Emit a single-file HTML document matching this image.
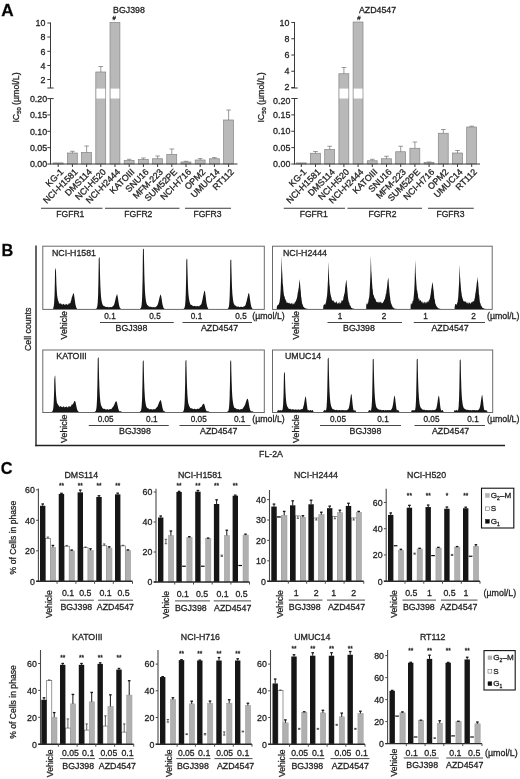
<!DOCTYPE html>
<html><head><meta charset="utf-8"><title>Figure</title>
<style>html,body{margin:0;padding:0;background:#fff}svg{display:block}text{font-family:"Liberation Sans",Arial,sans-serif;stroke:#222;stroke-width:0.28px}</style>
</head><body>
<svg width="520" height="779" viewBox="0 0 520 779">
<defs><filter id="soft" x="0" y="0" width="520" height="779" filterUnits="userSpaceOnUse"><feGaussianBlur stdDeviation="0.3"/></filter></defs>
<rect x="0" y="0" width="520" height="779" fill="#fff"/>
<g filter="url(#soft)">
<text x="1.30" y="15.50" font-size="17.2" font-weight="bold" fill="#000">A</text>
<rect x="53.20" y="162.90" width="9.90" height="1.10" fill="#b9b9b9" stroke="#858585" stroke-width="0.7"/>
<rect x="67.40" y="153.00" width="9.90" height="11.00" fill="#b9b9b9" stroke="#858585" stroke-width="0.7"/>
<line x1="72.40" y1="153.00" x2="72.40" y2="151.30" stroke="#707070" stroke-width="0.7"/>
<line x1="70.10" y1="151.30" x2="74.70" y2="151.30" stroke="#707070" stroke-width="0.7"/>
<rect x="81.60" y="152.50" width="9.90" height="11.50" fill="#b9b9b9" stroke="#858585" stroke-width="0.7"/>
<line x1="86.60" y1="152.50" x2="86.60" y2="146.00" stroke="#707070" stroke-width="0.7"/>
<line x1="84.30" y1="146.00" x2="88.90" y2="146.00" stroke="#707070" stroke-width="0.7"/>
<rect x="95.80" y="72.00" width="9.90" height="92.00" fill="#b9b9b9" stroke="#858585" stroke-width="0.7"/>
<rect x="96.40" y="88.60" width="8.80" height="9.90" fill="#fff"/>
<line x1="100.80" y1="72.00" x2="100.80" y2="66.50" stroke="#707070" stroke-width="0.7"/>
<line x1="98.50" y1="66.50" x2="103.10" y2="66.50" stroke="#707070" stroke-width="0.7"/>
<rect x="110.00" y="22.50" width="9.90" height="141.50" fill="#b9b9b9" stroke="#858585" stroke-width="0.7"/>
<rect x="110.60" y="88.60" width="8.80" height="9.90" fill="#fff"/>
<rect x="124.20" y="160.50" width="9.90" height="3.50" fill="#b9b9b9" stroke="#858585" stroke-width="0.7"/>
<line x1="129.20" y1="160.50" x2="129.20" y2="159.30" stroke="#707070" stroke-width="0.7"/>
<line x1="126.90" y1="159.30" x2="131.50" y2="159.30" stroke="#707070" stroke-width="0.7"/>
<rect x="138.40" y="159.50" width="9.90" height="4.50" fill="#b9b9b9" stroke="#858585" stroke-width="0.7"/>
<line x1="143.40" y1="159.50" x2="143.40" y2="158.00" stroke="#707070" stroke-width="0.7"/>
<line x1="141.10" y1="158.00" x2="145.70" y2="158.00" stroke="#707070" stroke-width="0.7"/>
<rect x="152.60" y="158.75" width="9.90" height="5.25" fill="#b9b9b9" stroke="#858585" stroke-width="0.7"/>
<line x1="157.60" y1="158.75" x2="157.60" y2="156.00" stroke="#707070" stroke-width="0.7"/>
<line x1="155.30" y1="156.00" x2="159.90" y2="156.00" stroke="#707070" stroke-width="0.7"/>
<rect x="166.80" y="154.50" width="9.90" height="9.50" fill="#b9b9b9" stroke="#858585" stroke-width="0.7"/>
<line x1="171.80" y1="154.50" x2="171.80" y2="149.00" stroke="#707070" stroke-width="0.7"/>
<line x1="169.50" y1="149.00" x2="174.10" y2="149.00" stroke="#707070" stroke-width="0.7"/>
<rect x="181.00" y="162.00" width="9.90" height="2.00" fill="#b9b9b9" stroke="#858585" stroke-width="0.7"/>
<line x1="186.00" y1="162.00" x2="186.00" y2="161.30" stroke="#707070" stroke-width="0.7"/>
<line x1="183.70" y1="161.30" x2="188.30" y2="161.30" stroke="#707070" stroke-width="0.7"/>
<rect x="195.20" y="160.00" width="9.90" height="4.00" fill="#b9b9b9" stroke="#858585" stroke-width="0.7"/>
<line x1="200.20" y1="160.00" x2="200.20" y2="158.60" stroke="#707070" stroke-width="0.7"/>
<line x1="197.90" y1="158.60" x2="202.50" y2="158.60" stroke="#707070" stroke-width="0.7"/>
<rect x="209.40" y="158.75" width="9.90" height="5.25" fill="#b9b9b9" stroke="#858585" stroke-width="0.7"/>
<line x1="214.40" y1="158.75" x2="214.40" y2="157.60" stroke="#707070" stroke-width="0.7"/>
<line x1="212.10" y1="157.60" x2="216.70" y2="157.60" stroke="#707070" stroke-width="0.7"/>
<rect x="223.60" y="120.00" width="9.90" height="44.00" fill="#b9b9b9" stroke="#858585" stroke-width="0.7"/>
<line x1="228.60" y1="120.00" x2="228.60" y2="110.00" stroke="#707070" stroke-width="0.7"/>
<line x1="226.30" y1="110.00" x2="230.90" y2="110.00" stroke="#707070" stroke-width="0.7"/>
<line x1="50.50" y1="22.50" x2="50.50" y2="88.00" stroke="#3a3a3a" stroke-width="1"/>
<line x1="50.50" y1="98.60" x2="50.50" y2="164.50" stroke="#3a3a3a" stroke-width="1"/>
<line x1="47.30" y1="23.00" x2="50.50" y2="23.00" stroke="#3a3a3a" stroke-width="1"/>
<text x="45.40" y="26.20" font-size="8.9" text-anchor="end" fill="#1c1c1c">10</text>
<line x1="47.30" y1="37.00" x2="50.50" y2="37.00" stroke="#3a3a3a" stroke-width="1"/>
<text x="45.40" y="40.20" font-size="8.9" text-anchor="end" fill="#1c1c1c">8</text>
<line x1="47.30" y1="51.30" x2="50.50" y2="51.30" stroke="#3a3a3a" stroke-width="1"/>
<text x="45.40" y="54.50" font-size="8.9" text-anchor="end" fill="#1c1c1c">6</text>
<line x1="47.30" y1="65.50" x2="50.50" y2="65.50" stroke="#3a3a3a" stroke-width="1"/>
<text x="45.40" y="68.70" font-size="8.9" text-anchor="end" fill="#1c1c1c">4</text>
<line x1="47.30" y1="79.50" x2="50.50" y2="79.50" stroke="#3a3a3a" stroke-width="1"/>
<text x="45.40" y="82.70" font-size="8.9" text-anchor="end" fill="#1c1c1c">2</text>
<line x1="47.30" y1="88.00" x2="53.70" y2="88.00" stroke="#3a3a3a" stroke-width="1"/>
<line x1="47.30" y1="98.60" x2="53.70" y2="98.60" stroke="#3a3a3a" stroke-width="1"/>
<text x="47.20" y="101.80" font-size="8.9" text-anchor="end" fill="#1c1c1c">0.20</text>
<line x1="47.30" y1="114.95" x2="50.50" y2="114.95" stroke="#3a3a3a" stroke-width="1"/>
<text x="47.20" y="118.15" font-size="8.9" text-anchor="end" fill="#1c1c1c">0.15</text>
<line x1="47.30" y1="131.30" x2="50.50" y2="131.30" stroke="#3a3a3a" stroke-width="1"/>
<text x="47.20" y="134.50" font-size="8.9" text-anchor="end" fill="#1c1c1c">0.10</text>
<line x1="47.30" y1="147.65" x2="50.50" y2="147.65" stroke="#3a3a3a" stroke-width="1"/>
<text x="47.20" y="150.85" font-size="8.9" text-anchor="end" fill="#1c1c1c">0.05</text>
<line x1="47.30" y1="164.00" x2="50.50" y2="164.00" stroke="#3a3a3a" stroke-width="1"/>
<text x="47.20" y="167.20" font-size="8.9" text-anchor="end" fill="#1c1c1c">0.00</text>
<line x1="50.50" y1="164.00" x2="237.50" y2="164.00" stroke="#3a3a3a" stroke-width="1"/>
<line x1="58.20" y1="164.00" x2="58.20" y2="167.00" stroke="#3a3a3a" stroke-width="1"/>
<text x="64.00" y="172.50" font-size="8.9" text-anchor="end" transform="rotate(-45 64.00 172.50)" fill="#1c1c1c">KG-1</text>
<line x1="72.40" y1="164.00" x2="72.40" y2="167.00" stroke="#3a3a3a" stroke-width="1"/>
<text x="78.20" y="172.50" font-size="8.9" text-anchor="end" transform="rotate(-45 78.20 172.50)" fill="#1c1c1c">NCI-H1581</text>
<line x1="86.60" y1="164.00" x2="86.60" y2="167.00" stroke="#3a3a3a" stroke-width="1"/>
<text x="92.40" y="172.50" font-size="8.9" text-anchor="end" transform="rotate(-45 92.40 172.50)" fill="#1c1c1c">DMS114</text>
<line x1="100.80" y1="164.00" x2="100.80" y2="167.00" stroke="#3a3a3a" stroke-width="1"/>
<text x="106.60" y="172.50" font-size="8.9" text-anchor="end" transform="rotate(-45 106.60 172.50)" fill="#1c1c1c">NCI-H520</text>
<line x1="115.00" y1="164.00" x2="115.00" y2="167.00" stroke="#3a3a3a" stroke-width="1"/>
<text x="120.80" y="172.50" font-size="8.9" text-anchor="end" transform="rotate(-45 120.80 172.50)" fill="#1c1c1c">NCI-H2444</text>
<line x1="129.20" y1="164.00" x2="129.20" y2="167.00" stroke="#3a3a3a" stroke-width="1"/>
<text x="135.00" y="172.50" font-size="8.9" text-anchor="end" transform="rotate(-45 135.00 172.50)" fill="#1c1c1c">KATOIII</text>
<line x1="143.40" y1="164.00" x2="143.40" y2="167.00" stroke="#3a3a3a" stroke-width="1"/>
<text x="149.20" y="172.50" font-size="8.9" text-anchor="end" transform="rotate(-45 149.20 172.50)" fill="#1c1c1c">SNU16</text>
<line x1="157.60" y1="164.00" x2="157.60" y2="167.00" stroke="#3a3a3a" stroke-width="1"/>
<text x="163.40" y="172.50" font-size="8.9" text-anchor="end" transform="rotate(-45 163.40 172.50)" fill="#1c1c1c">MFM-223</text>
<line x1="171.80" y1="164.00" x2="171.80" y2="167.00" stroke="#3a3a3a" stroke-width="1"/>
<text x="177.60" y="172.50" font-size="8.9" text-anchor="end" transform="rotate(-45 177.60 172.50)" fill="#1c1c1c">SUM52PE</text>
<line x1="186.00" y1="164.00" x2="186.00" y2="167.00" stroke="#3a3a3a" stroke-width="1"/>
<text x="191.80" y="172.50" font-size="8.9" text-anchor="end" transform="rotate(-45 191.80 172.50)" fill="#1c1c1c">NCI-H716</text>
<line x1="200.20" y1="164.00" x2="200.20" y2="167.00" stroke="#3a3a3a" stroke-width="1"/>
<text x="206.00" y="172.50" font-size="8.9" text-anchor="end" transform="rotate(-45 206.00 172.50)" fill="#1c1c1c">OPM2</text>
<line x1="214.40" y1="164.00" x2="214.40" y2="167.00" stroke="#3a3a3a" stroke-width="1"/>
<text x="220.20" y="172.50" font-size="8.9" text-anchor="end" transform="rotate(-45 220.20 172.50)" fill="#1c1c1c">UMUC14</text>
<line x1="228.60" y1="164.00" x2="228.60" y2="167.00" stroke="#3a3a3a" stroke-width="1"/>
<text x="234.40" y="172.50" font-size="8.9" text-anchor="end" transform="rotate(-45 234.40 172.50)" fill="#1c1c1c">RT112</text>
<text x="129.00" y="13.00" font-size="8.8" text-anchor="middle" fill="#1c1c1c">BGJ398</text>
<text x="114.10" y="20.20" font-size="6" text-anchor="middle" fill="#1c1c1c">#</text>
<line x1="41.00" y1="208.25" x2="102.50" y2="208.25" stroke="#3a3a3a" stroke-width="1"/>
<text x="70.30" y="217.20" font-size="8.6" text-anchor="middle" fill="#1c1c1c">FGFR1</text>
<line x1="105.00" y1="208.25" x2="179.50" y2="208.25" stroke="#3a3a3a" stroke-width="1"/>
<text x="138.30" y="217.20" font-size="8.6" text-anchor="middle" fill="#1c1c1c">FGFR2</text>
<line x1="185.00" y1="208.25" x2="231.00" y2="208.25" stroke="#3a3a3a" stroke-width="1"/>
<text x="207.50" y="217.20" font-size="8.6" text-anchor="middle" fill="#1c1c1c">FGFR3</text>
<rect x="296.30" y="162.90" width="9.90" height="1.10" fill="#b9b9b9" stroke="#858585" stroke-width="0.7"/>
<rect x="310.50" y="153.25" width="9.90" height="10.75" fill="#b9b9b9" stroke="#858585" stroke-width="0.7"/>
<line x1="315.50" y1="153.25" x2="315.50" y2="151.50" stroke="#707070" stroke-width="0.7"/>
<line x1="313.20" y1="151.50" x2="317.80" y2="151.50" stroke="#707070" stroke-width="0.7"/>
<rect x="324.70" y="149.50" width="9.90" height="14.50" fill="#b9b9b9" stroke="#858585" stroke-width="0.7"/>
<line x1="329.70" y1="149.50" x2="329.70" y2="146.25" stroke="#707070" stroke-width="0.7"/>
<line x1="327.40" y1="146.25" x2="332.00" y2="146.25" stroke="#707070" stroke-width="0.7"/>
<rect x="338.90" y="73.75" width="9.90" height="90.25" fill="#b9b9b9" stroke="#858585" stroke-width="0.7"/>
<rect x="339.50" y="88.60" width="8.80" height="9.90" fill="#fff"/>
<line x1="343.90" y1="73.75" x2="343.90" y2="67.50" stroke="#707070" stroke-width="0.7"/>
<line x1="341.60" y1="67.50" x2="346.20" y2="67.50" stroke="#707070" stroke-width="0.7"/>
<rect x="353.10" y="22.00" width="9.90" height="142.00" fill="#b9b9b9" stroke="#858585" stroke-width="0.7"/>
<rect x="353.70" y="88.60" width="8.80" height="9.90" fill="#fff"/>
<rect x="367.30" y="160.75" width="9.90" height="3.25" fill="#b9b9b9" stroke="#858585" stroke-width="0.7"/>
<line x1="372.30" y1="160.75" x2="372.30" y2="159.30" stroke="#707070" stroke-width="0.7"/>
<line x1="370.00" y1="159.30" x2="374.60" y2="159.30" stroke="#707070" stroke-width="0.7"/>
<rect x="381.50" y="158.75" width="9.90" height="5.25" fill="#b9b9b9" stroke="#858585" stroke-width="0.7"/>
<line x1="386.50" y1="158.75" x2="386.50" y2="156.25" stroke="#707070" stroke-width="0.7"/>
<line x1="384.20" y1="156.25" x2="388.80" y2="156.25" stroke="#707070" stroke-width="0.7"/>
<rect x="395.70" y="151.75" width="9.90" height="12.25" fill="#b9b9b9" stroke="#858585" stroke-width="0.7"/>
<line x1="400.70" y1="151.75" x2="400.70" y2="146.25" stroke="#707070" stroke-width="0.7"/>
<line x1="398.40" y1="146.25" x2="403.00" y2="146.25" stroke="#707070" stroke-width="0.7"/>
<rect x="409.90" y="148.25" width="9.90" height="15.75" fill="#b9b9b9" stroke="#858585" stroke-width="0.7"/>
<line x1="414.90" y1="148.25" x2="414.90" y2="142.00" stroke="#707070" stroke-width="0.7"/>
<line x1="412.60" y1="142.00" x2="417.20" y2="142.00" stroke="#707070" stroke-width="0.7"/>
<rect x="424.10" y="162.50" width="9.90" height="1.50" fill="#b9b9b9" stroke="#858585" stroke-width="0.7"/>
<line x1="429.10" y1="162.50" x2="429.10" y2="162.00" stroke="#707070" stroke-width="0.7"/>
<line x1="426.80" y1="162.00" x2="431.40" y2="162.00" stroke="#707070" stroke-width="0.7"/>
<rect x="438.30" y="133.25" width="9.90" height="30.75" fill="#b9b9b9" stroke="#858585" stroke-width="0.7"/>
<line x1="443.30" y1="133.25" x2="443.30" y2="129.50" stroke="#707070" stroke-width="0.7"/>
<line x1="441.00" y1="129.50" x2="445.60" y2="129.50" stroke="#707070" stroke-width="0.7"/>
<rect x="452.50" y="153.00" width="9.90" height="11.00" fill="#b9b9b9" stroke="#858585" stroke-width="0.7"/>
<line x1="457.50" y1="153.00" x2="457.50" y2="150.50" stroke="#707070" stroke-width="0.7"/>
<line x1="455.20" y1="150.50" x2="459.80" y2="150.50" stroke="#707070" stroke-width="0.7"/>
<rect x="466.70" y="127.00" width="9.90" height="37.00" fill="#b9b9b9" stroke="#858585" stroke-width="0.7"/>
<line x1="471.70" y1="127.00" x2="471.70" y2="126.20" stroke="#707070" stroke-width="0.7"/>
<line x1="469.40" y1="126.20" x2="474.00" y2="126.20" stroke="#707070" stroke-width="0.7"/>
<line x1="294.50" y1="22.00" x2="294.50" y2="88.00" stroke="#3a3a3a" stroke-width="1"/>
<line x1="294.50" y1="98.50" x2="294.50" y2="164.50" stroke="#3a3a3a" stroke-width="1"/>
<line x1="291.30" y1="22.50" x2="294.50" y2="22.50" stroke="#3a3a3a" stroke-width="1"/>
<text x="289.40" y="25.70" font-size="8.9" text-anchor="end" fill="#1c1c1c">10</text>
<line x1="291.30" y1="38.75" x2="294.50" y2="38.75" stroke="#3a3a3a" stroke-width="1"/>
<text x="289.40" y="41.95" font-size="8.9" text-anchor="end" fill="#1c1c1c">8</text>
<line x1="291.30" y1="55.00" x2="294.50" y2="55.00" stroke="#3a3a3a" stroke-width="1"/>
<text x="289.40" y="58.20" font-size="8.9" text-anchor="end" fill="#1c1c1c">6</text>
<line x1="291.30" y1="71.25" x2="294.50" y2="71.25" stroke="#3a3a3a" stroke-width="1"/>
<text x="289.40" y="74.45" font-size="8.9" text-anchor="end" fill="#1c1c1c">4</text>
<line x1="291.30" y1="87.50" x2="294.50" y2="87.50" stroke="#3a3a3a" stroke-width="1"/>
<text x="289.40" y="89.70" font-size="8.9" text-anchor="end" fill="#1c1c1c">2</text>
<line x1="291.30" y1="88.00" x2="297.70" y2="88.00" stroke="#3a3a3a" stroke-width="1"/>
<line x1="291.30" y1="98.50" x2="297.70" y2="98.50" stroke="#3a3a3a" stroke-width="1"/>
<text x="290.35" y="103.50" font-size="8.9" text-anchor="end" fill="#1c1c1c">0.20</text>
<line x1="291.30" y1="114.88" x2="294.50" y2="114.88" stroke="#3a3a3a" stroke-width="1"/>
<text x="290.35" y="118.08" font-size="8.9" text-anchor="end" fill="#1c1c1c">0.15</text>
<line x1="291.30" y1="131.25" x2="294.50" y2="131.25" stroke="#3a3a3a" stroke-width="1"/>
<text x="290.35" y="134.45" font-size="8.9" text-anchor="end" fill="#1c1c1c">0.10</text>
<line x1="291.30" y1="147.62" x2="294.50" y2="147.62" stroke="#3a3a3a" stroke-width="1"/>
<text x="290.35" y="150.82" font-size="8.9" text-anchor="end" fill="#1c1c1c">0.05</text>
<line x1="291.30" y1="164.00" x2="294.50" y2="164.00" stroke="#3a3a3a" stroke-width="1"/>
<text x="290.35" y="167.20" font-size="8.9" text-anchor="end" fill="#1c1c1c">0.00</text>
<line x1="294.50" y1="164.00" x2="480.00" y2="164.00" stroke="#3a3a3a" stroke-width="1"/>
<line x1="301.30" y1="164.00" x2="301.30" y2="167.00" stroke="#3a3a3a" stroke-width="1"/>
<text x="307.10" y="172.50" font-size="8.9" text-anchor="end" transform="rotate(-45 307.10 172.50)" fill="#1c1c1c">KG-1</text>
<line x1="315.50" y1="164.00" x2="315.50" y2="167.00" stroke="#3a3a3a" stroke-width="1"/>
<text x="321.30" y="172.50" font-size="8.9" text-anchor="end" transform="rotate(-45 321.30 172.50)" fill="#1c1c1c">NCI-H1581</text>
<line x1="329.70" y1="164.00" x2="329.70" y2="167.00" stroke="#3a3a3a" stroke-width="1"/>
<text x="335.50" y="172.50" font-size="8.9" text-anchor="end" transform="rotate(-45 335.50 172.50)" fill="#1c1c1c">DMS114</text>
<line x1="343.90" y1="164.00" x2="343.90" y2="167.00" stroke="#3a3a3a" stroke-width="1"/>
<text x="349.70" y="172.50" font-size="8.9" text-anchor="end" transform="rotate(-45 349.70 172.50)" fill="#1c1c1c">NCI-H520</text>
<line x1="358.10" y1="164.00" x2="358.10" y2="167.00" stroke="#3a3a3a" stroke-width="1"/>
<text x="363.90" y="172.50" font-size="8.9" text-anchor="end" transform="rotate(-45 363.90 172.50)" fill="#1c1c1c">NCI-H2444</text>
<line x1="372.30" y1="164.00" x2="372.30" y2="167.00" stroke="#3a3a3a" stroke-width="1"/>
<text x="378.10" y="172.50" font-size="8.9" text-anchor="end" transform="rotate(-45 378.10 172.50)" fill="#1c1c1c">KATOIII</text>
<line x1="386.50" y1="164.00" x2="386.50" y2="167.00" stroke="#3a3a3a" stroke-width="1"/>
<text x="392.30" y="172.50" font-size="8.9" text-anchor="end" transform="rotate(-45 392.30 172.50)" fill="#1c1c1c">SNU16</text>
<line x1="400.70" y1="164.00" x2="400.70" y2="167.00" stroke="#3a3a3a" stroke-width="1"/>
<text x="406.50" y="172.50" font-size="8.9" text-anchor="end" transform="rotate(-45 406.50 172.50)" fill="#1c1c1c">MFM-223</text>
<line x1="414.90" y1="164.00" x2="414.90" y2="167.00" stroke="#3a3a3a" stroke-width="1"/>
<text x="420.70" y="172.50" font-size="8.9" text-anchor="end" transform="rotate(-45 420.70 172.50)" fill="#1c1c1c">SUM52PE</text>
<line x1="429.10" y1="164.00" x2="429.10" y2="167.00" stroke="#3a3a3a" stroke-width="1"/>
<text x="434.90" y="172.50" font-size="8.9" text-anchor="end" transform="rotate(-45 434.90 172.50)" fill="#1c1c1c">NCI-H716</text>
<line x1="443.30" y1="164.00" x2="443.30" y2="167.00" stroke="#3a3a3a" stroke-width="1"/>
<text x="449.10" y="172.50" font-size="8.9" text-anchor="end" transform="rotate(-45 449.10 172.50)" fill="#1c1c1c">OPM2</text>
<line x1="457.50" y1="164.00" x2="457.50" y2="167.00" stroke="#3a3a3a" stroke-width="1"/>
<text x="463.30" y="172.50" font-size="8.9" text-anchor="end" transform="rotate(-45 463.30 172.50)" fill="#1c1c1c">UMUC14</text>
<line x1="471.70" y1="164.00" x2="471.70" y2="167.00" stroke="#3a3a3a" stroke-width="1"/>
<text x="477.50" y="172.50" font-size="8.9" text-anchor="end" transform="rotate(-45 477.50 172.50)" fill="#1c1c1c">RT112</text>
<text x="377.50" y="13.00" font-size="8.8" text-anchor="middle" fill="#1c1c1c">AZD4547</text>
<text x="358.90" y="20.20" font-size="6" text-anchor="middle" fill="#1c1c1c">#</text>
<line x1="283.75" y1="208.25" x2="345.00" y2="208.25" stroke="#3a3a3a" stroke-width="1"/>
<text x="313.75" y="217.20" font-size="8.6" text-anchor="middle" fill="#1c1c1c">FGFR1</text>
<line x1="347.50" y1="208.25" x2="422.00" y2="208.25" stroke="#3a3a3a" stroke-width="1"/>
<text x="382.50" y="217.20" font-size="8.6" text-anchor="middle" fill="#1c1c1c">FGFR2</text>
<line x1="428.00" y1="208.25" x2="473.75" y2="208.25" stroke="#3a3a3a" stroke-width="1"/>
<text x="450.50" y="217.20" font-size="8.6" text-anchor="middle" fill="#1c1c1c">FGFR3</text>
<text x="19.2" y="97.5" font-size="8.8" text-anchor="middle" transform="rotate(-90 19.2 97.5)" fill="#1c1c1c">IC<tspan font-size="5.8" dy="2">50</tspan><tspan dy="-2"> (µmol/L)</tspan></text>
<text x="264.2" y="97.5" font-size="8.8" text-anchor="middle" transform="rotate(-90 264.2 97.5)" fill="#1c1c1c">IC<tspan font-size="5.8" dy="2">50</tspan><tspan dy="-2"> (µmol/L)</tspan></text>
<text x="1.50" y="256.20" font-size="16.3" font-weight="bold" fill="#000">B</text>
<line x1="36.00" y1="245.50" x2="36.00" y2="446.20" stroke="#222" stroke-width="1.4"/>
<line x1="35.30" y1="445.50" x2="505.00" y2="445.50" stroke="#222" stroke-width="1.4"/>
<text x="31.00" y="329.30" font-size="8.8" text-anchor="middle" transform="rotate(-90 31.00 329.30)" fill="#1c1c1c">Cell counts</text>
<text x="271.00" y="456.60" font-size="8.8" text-anchor="middle" fill="#1c1c1c">FL-2A</text>
<rect x="42.80" y="246.20" width="221.50" height="63.20" fill="none" stroke="#6a6a6a" stroke-width="1"/>
<text x="52.00" y="255.60" font-size="8.8" fill="#1c1c1c">NCI-H1581</text>
<rect x="272.50" y="246.20" width="219.70" height="63.20" fill="none" stroke="#6a6a6a" stroke-width="1"/>
<text x="283.00" y="255.60" font-size="8.8" fill="#1c1c1c">NCI-H2444</text>
<rect x="42.80" y="350.00" width="221.50" height="62.50" fill="none" stroke="#6a6a6a" stroke-width="1"/>
<text x="56.30" y="359.40" font-size="8.8" fill="#1c1c1c">KATOIII</text>
<rect x="272.50" y="350.00" width="220.20" height="62.50" fill="none" stroke="#6a6a6a" stroke-width="1"/>
<text x="285.00" y="359.40" font-size="8.8" fill="#1c1c1c">UMUC14</text>
<path d="M53.20,309.00 L53.20,308.02 L53.53,307.13 L53.85,305.45 L54.18,302.24 L54.50,296.13 L54.83,284.46 L55.05,271.07 L55.16,270.66 L55.48,268.83 L55.50,268.07 L55.81,268.70 L55.95,268.92 L56.13,276.02 L56.46,284.96 L56.79,291.31 L57.11,295.37 L57.44,297.35 L57.76,298.93 L58.09,300.52 L58.42,301.32 L58.74,302.00 L59.07,303.17 L59.39,303.70 L59.72,303.44 L60.05,303.55 L60.37,303.70 L60.70,303.28 L61.02,303.34 L61.35,304.12 L61.68,304.38 L62.00,304.30 L62.33,304.68 L62.65,304.65 L62.98,303.92 L63.31,303.80 L63.63,304.17 L63.96,304.09 L64.28,304.22 L64.61,304.94 L64.94,305.00 L65.26,304.45 L65.59,304.41 L65.92,304.37 L66.24,303.84 L66.57,303.93 L66.89,304.64 L67.22,304.73 L67.55,304.58 L67.87,304.85 L68.20,304.60 L68.52,303.75 L68.85,303.57 L69.18,303.74 L69.50,303.35 L69.83,303.18 L70.15,303.37 L70.48,302.68 L70.81,301.34 L71.13,300.42 L71.46,299.28 L71.78,297.61 L72.11,296.57 L72.44,296.02 L72.76,294.87 L73.09,293.80 L73.41,293.52 L73.50,293.00 L73.74,293.40 L74.07,294.87 L74.39,297.03 L74.72,299.47 L75.04,301.84 L75.37,303.91 L75.70,305.56 L76.02,306.79 L76.35,307.64 L76.67,308.20 L77.00,308.54 L77.00,309.00 Z" fill="#151515"/>
<path d="M95.80,309.00 L95.80,308.86 L96.13,308.72 L96.46,308.45 L96.79,307.99 L97.12,307.06 L97.44,305.26 L97.77,301.79 L98.10,295.11 L98.43,282.24 L98.75,258.50 L98.76,258.48 L99.09,257.89 L99.20,257.45 L99.42,257.40 L99.65,257.52 L99.75,263.07 L100.08,277.46 L100.41,286.70 L100.73,292.85 L101.06,297.06 L101.39,299.68 L101.72,301.45 L102.05,302.99 L102.38,304.08 L102.71,304.73 L103.04,305.39 L103.37,305.87 L103.69,305.92 L104.02,306.00 L104.35,306.27 L104.68,306.36 L105.01,306.45 L105.34,306.82 L105.67,307.04 L106.00,306.95 L106.33,306.99 L106.66,307.05 L106.98,306.85 L107.31,306.82 L107.64,307.09 L107.97,307.19 L108.30,307.18 L108.63,307.37 L108.96,307.39 L109.29,307.12 L109.62,307.05 L109.94,307.15 L110.27,307.06 L110.60,307.10 L110.93,307.37 L111.26,307.36 L111.59,307.12 L111.92,307.05 L112.25,306.86 L112.58,306.42 L112.91,306.18 L113.23,306.05 L113.56,305.55 L113.89,304.90 L114.22,304.24 L114.55,303.14 L114.88,301.70 L115.21,300.40 L115.54,299.05 L115.87,297.52 L116.19,296.29 L116.52,295.40 L116.85,294.58 L117.00,294.30 L117.18,294.53 L117.51,295.74 L117.84,297.62 L118.17,299.79 L118.50,301.95 L118.83,303.88 L119.16,305.46 L119.48,306.67 L119.81,307.53 L120.14,308.11 L120.47,308.49 L120.80,308.71 L120.80,309.00 Z" fill="#151515"/>
<path d="M140.00,309.00 L140.00,308.83 L140.33,308.65 L140.66,308.33 L140.98,307.82 L141.31,306.74 L141.64,304.65 L141.97,300.64 L142.30,292.91 L142.62,278.05 L142.95,249.70 L142.95,249.69 L143.28,249.11 L143.40,248.74 L143.61,248.77 L143.85,248.94 L143.94,254.73 L144.26,271.63 L144.59,282.53 L144.92,289.89 L145.25,294.90 L145.58,298.11 L145.90,300.47 L146.23,302.37 L146.56,303.56 L146.89,304.30 L147.22,304.98 L147.54,305.37 L147.87,305.45 L148.20,305.73 L148.53,306.13 L148.86,306.30 L149.18,306.50 L149.51,306.85 L149.84,306.89 L150.17,306.72 L150.50,306.79 L150.82,306.85 L151.15,306.76 L151.48,306.92 L151.81,307.23 L152.14,307.24 L152.46,307.19 L152.79,307.28 L153.12,307.17 L153.45,306.93 L153.78,307.02 L154.10,307.19 L154.43,307.14 L154.76,307.22 L155.09,307.36 L155.42,307.13 L155.74,306.79 L156.07,306.65 L156.40,306.38 L156.73,305.93 L157.06,305.66 L157.38,305.31 L157.71,304.47 L158.04,303.49 L158.37,302.46 L158.70,301.02 L159.02,299.46 L159.35,298.20 L159.68,296.95 L160.01,295.70 L160.34,294.94 L160.60,294.50 L160.66,294.53 L160.99,295.39 L161.32,297.05 L161.65,299.12 L161.98,301.28 L162.30,303.28 L162.63,304.97 L162.96,306.29 L163.29,307.26 L163.62,307.93 L163.94,308.37 L164.27,308.64 L164.60,308.81 L164.60,309.00 Z" fill="#151515"/>
<path d="M183.50,309.00 L183.50,308.83 L183.83,308.67 L184.16,308.37 L184.49,307.80 L184.82,306.69 L185.15,304.55 L185.48,300.43 L185.81,292.50 L186.13,277.23 L186.35,260.22 L186.46,259.96 L186.79,258.83 L186.80,258.58 L187.12,258.96 L187.25,258.99 L187.45,269.09 L187.78,280.96 L188.11,289.01 L188.44,293.98 L188.77,297.08 L189.10,299.57 L189.43,301.35 L189.76,302.40 L190.09,303.50 L190.42,304.44 L190.75,304.66 L191.07,304.76 L191.40,305.08 L191.73,305.08 L192.06,305.02 L192.39,305.48 L192.72,305.90 L193.05,305.89 L193.38,306.04 L193.71,306.22 L194.04,305.89 L194.37,305.66 L194.70,305.90 L195.03,305.99 L195.36,305.98 L195.69,306.37 L196.01,306.58 L196.34,306.27 L196.67,306.13 L197.00,306.19 L197.33,305.93 L197.66,305.85 L197.99,306.27 L198.32,306.43 L198.65,306.26 L198.98,306.34 L199.31,306.24 L199.64,305.65 L199.97,305.34 L200.30,305.32 L200.63,304.93 L200.95,304.46 L201.28,304.18 L201.61,303.32 L201.94,301.86 L202.27,300.53 L202.60,299.03 L202.93,297.09 L203.26,295.44 L203.59,294.15 L203.92,292.60 L204.25,291.25 L204.58,290.77 L204.60,290.50 L204.91,291.24 L205.24,293.14 L205.57,295.72 L205.89,298.50 L206.22,301.15 L206.55,303.43 L206.88,305.24 L207.21,306.57 L207.54,307.50 L207.87,308.11 L208.20,308.50 L208.20,309.00 Z" fill="#151515"/>
<path d="M227.50,309.00 L227.50,308.83 L227.83,308.68 L228.15,308.39 L228.48,307.83 L228.80,306.77 L229.13,304.74 L229.46,300.84 L229.78,293.39 L230.11,279.11 L230.35,260.56 L230.43,260.41 L230.76,259.63 L230.80,259.40 L231.09,259.70 L231.25,259.78 L231.41,268.08 L231.74,280.28 L232.06,288.51 L232.39,293.95 L232.72,297.36 L233.04,299.89 L233.37,301.91 L233.69,303.15 L234.02,304.03 L234.35,304.87 L234.67,305.26 L235.00,305.29 L235.32,305.54 L235.65,305.84 L235.98,305.90 L236.30,306.15 L236.63,306.59 L236.95,306.68 L237.28,306.56 L237.61,306.66 L237.93,306.64 L238.26,306.41 L238.58,306.53 L238.91,306.84 L239.24,306.88 L239.56,306.92 L239.89,307.13 L240.21,307.02 L240.54,306.71 L240.86,306.74 L241.19,306.83 L241.52,306.74 L241.84,306.88 L242.17,307.19 L242.49,307.11 L242.82,306.89 L243.15,306.88 L243.47,306.70 L243.80,306.34 L244.12,306.31 L244.45,306.35 L244.78,306.01 L245.10,305.60 L245.43,305.19 L245.75,304.29 L246.08,303.07 L246.41,302.03 L246.73,300.84 L247.06,299.32 L247.38,297.98 L247.71,296.72 L248.04,295.17 L248.36,293.80 L248.69,293.11 L248.80,293.00 L249.01,293.33 L249.34,294.73 L249.67,296.80 L249.99,299.16 L250.32,301.48 L250.64,303.54 L250.97,305.23 L251.30,306.51 L251.62,307.43 L251.95,308.05 L252.27,308.45 L252.60,308.69 L252.60,309.00 Z" fill="#151515"/>
<path d="M276.80,309.00 L276.80,307.08 L277.13,305.90 L277.46,304.78 L277.79,305.82 L278.11,304.56 L278.44,304.59 L278.77,304.83 L279.10,302.82 L279.43,302.81 L279.76,299.97 L280.08,298.25 L280.41,294.28 L280.74,287.66 L281.07,278.17 L281.15,277.38 L281.40,267.31 L281.60,255.87 L281.73,259.25 L282.05,269.27 L282.05,269.85 L282.38,275.41 L282.71,283.31 L283.04,285.45 L283.37,290.26 L283.70,293.26 L284.03,295.40 L284.35,296.56 L284.68,296.56 L285.01,299.28 L285.34,299.11 L285.67,299.68 L286.00,300.96 L286.32,301.00 L286.65,302.68 L286.98,303.03 L287.31,302.95 L287.64,301.97 L287.97,302.85 L288.29,303.33 L288.62,302.79 L288.95,303.28 L289.28,303.80 L289.61,302.62 L289.94,302.97 L290.27,304.23 L290.59,303.44 L290.92,303.63 L291.25,302.76 L291.58,303.18 L291.91,304.35 L292.24,302.56 L292.56,304.79 L292.89,303.98 L293.22,303.05 L293.55,304.54 L293.88,303.54 L294.21,304.55 L294.53,302.69 L294.86,302.15 L295.19,302.27 L295.52,301.00 L295.85,301.85 L296.18,300.09 L296.51,299.42 L296.83,298.31 L297.16,297.27 L297.49,294.65 L297.82,292.49 L298.15,291.57 L298.48,288.70 L298.80,287.72 L299.13,283.47 L299.46,281.24 L299.70,279.19 L299.79,280.09 L300.12,284.75 L300.45,288.40 L300.77,291.45 L301.10,296.49 L301.43,298.18 L301.76,301.24 L302.09,303.20 L302.42,304.78 L302.75,304.16 L303.07,306.27 L303.40,306.66 L303.73,306.97 L304.06,306.95 L304.39,307.93 L304.72,307.94 L305.04,308.12 L305.37,308.19 L305.70,308.39 L306.03,308.52 L306.36,308.73 L306.69,308.78 L307.01,308.84 L307.34,308.85 L307.67,308.89 L308.00,308.95 L308.00,309.00 Z" fill="#151515"/>
<path d="M323.20,309.00 L323.20,306.93 L323.53,305.13 L323.86,305.07 L324.18,304.38 L324.51,303.98 L324.84,304.61 L325.17,304.97 L325.49,303.44 L325.82,302.91 L326.15,301.43 L326.48,299.01 L326.81,297.60 L327.13,295.00 L327.46,290.25 L327.79,283.51 L327.95,280.86 L328.12,273.25 L328.40,261.67 L328.45,262.75 L328.77,271.23 L328.85,273.93 L329.10,278.65 L329.43,284.36 L329.76,286.82 L330.08,291.31 L330.41,293.65 L330.74,295.15 L331.07,296.75 L331.40,297.48 L331.72,299.18 L332.05,300.10 L332.38,300.34 L332.71,301.00 L333.04,300.76 L333.36,302.00 L333.69,300.10 L334.02,301.04 L334.35,302.48 L334.67,302.40 L335.00,302.32 L335.33,302.42 L335.66,303.18 L335.99,301.40 L336.31,301.12 L336.64,302.57 L336.97,302.60 L337.30,303.69 L337.62,303.70 L337.95,303.11 L338.28,303.35 L338.61,301.90 L338.94,303.64 L339.26,303.98 L339.59,301.54 L339.92,302.59 L340.25,303.50 L340.58,302.36 L340.90,303.54 L341.23,302.02 L341.56,300.57 L341.89,300.51 L342.21,300.49 L342.54,301.04 L342.87,300.04 L343.20,299.67 L343.53,297.02 L343.85,296.34 L344.18,294.16 L344.51,293.55 L344.84,291.79 L345.16,288.00 L345.49,285.13 L345.82,283.01 L346.15,280.86 L346.40,279.65 L346.48,280.20 L346.80,284.59 L347.13,287.59 L347.46,291.68 L347.79,295.81 L348.12,298.60 L348.44,300.23 L348.77,302.13 L349.10,302.48 L349.43,303.00 L349.75,305.19 L350.08,305.11 L350.41,305.79 L350.74,306.44 L351.07,307.45 L351.39,307.86 L351.72,308.09 L352.05,308.30 L352.38,308.45 L352.71,308.47 L353.03,308.54 L353.36,308.66 L353.69,308.79 L354.02,308.83 L354.34,308.87 L354.67,308.94 L355.00,308.94 L355.00,309.00 Z" fill="#151515"/>
<path d="M366.20,309.00 L366.20,305.83 L366.53,303.63 L366.86,303.54 L367.18,304.00 L367.51,304.45 L367.84,302.37 L368.17,302.85 L368.49,300.59 L368.82,298.61 L369.15,297.86 L369.48,294.55 L369.81,288.29 L370.13,281.76 L370.35,276.78 L370.46,272.88 L370.79,257.49 L370.80,254.95 L371.12,264.86 L371.25,269.94 L371.45,272.53 L371.77,278.09 L372.10,283.57 L372.43,287.99 L372.76,290.31 L373.08,293.64 L373.41,295.72 L373.74,294.66 L374.07,296.64 L374.40,297.90 L374.72,297.60 L375.05,299.53 L375.38,298.91 L375.71,299.47 L376.04,301.44 L376.36,301.65 L376.69,301.81 L377.02,302.17 L377.35,301.47 L377.67,302.49 L378.00,302.22 L378.33,303.10 L378.66,301.18 L378.99,302.73 L379.31,302.53 L379.64,302.27 L379.97,301.49 L380.30,302.79 L380.62,301.52 L380.95,302.60 L381.28,302.51 L381.61,302.49 L381.94,303.73 L382.26,302.53 L382.59,303.05 L382.92,303.31 L383.25,300.96 L383.58,302.23 L383.90,300.98 L384.23,299.73 L384.56,299.43 L384.89,299.11 L385.21,297.49 L385.54,296.03 L385.87,293.83 L386.20,293.70 L386.53,290.36 L386.85,288.74 L387.18,286.03 L387.51,282.00 L387.84,280.06 L388.16,277.90 L388.20,277.29 L388.49,279.36 L388.82,284.61 L389.15,288.31 L389.48,292.37 L389.80,295.61 L390.13,297.83 L390.46,300.62 L390.79,302.13 L391.12,303.64 L391.44,303.66 L391.77,305.14 L392.10,305.64 L392.43,306.22 L392.75,307.41 L393.08,307.50 L393.41,307.58 L393.74,307.93 L394.07,308.42 L394.39,308.56 L394.72,308.59 L395.05,308.75 L395.38,308.79 L395.71,308.86 L396.03,308.86 L396.36,308.89 L396.69,308.92 L397.02,308.96 L397.34,308.96 L397.67,308.98 L398.00,308.99 L398.00,309.00 Z" fill="#151515"/>
<path d="M410.60,309.00 L410.60,305.89 L410.93,303.21 L411.26,304.90 L411.59,302.81 L411.91,303.94 L412.24,303.26 L412.57,301.29 L412.90,300.72 L413.23,301.02 L413.56,298.21 L413.89,294.89 L414.22,290.80 L414.54,284.47 L414.75,278.46 L414.87,273.27 L415.20,260.75 L415.20,259.43 L415.53,268.93 L415.65,272.81 L415.86,276.30 L416.19,281.01 L416.52,285.55 L416.85,290.04 L417.17,290.25 L417.50,292.81 L417.83,293.97 L418.16,297.53 L418.49,298.16 L418.82,299.60 L419.15,298.38 L419.48,300.28 L419.80,301.12 L420.13,300.76 L420.46,299.83 L420.79,300.36 L421.12,302.06 L421.45,302.55 L421.78,300.73 L422.11,301.79 L422.43,301.59 L422.76,303.30 L423.09,303.48 L423.42,301.93 L423.75,302.69 L424.08,303.66 L424.41,301.46 L424.74,302.29 L425.06,301.87 L425.39,303.74 L425.72,301.72 L426.05,303.74 L426.38,301.61 L426.71,302.57 L427.04,302.73 L427.36,301.99 L427.69,300.77 L428.02,302.15 L428.35,302.09 L428.68,300.52 L429.01,300.60 L429.34,300.10 L429.67,298.96 L429.99,298.02 L430.32,296.18 L430.65,294.21 L430.98,292.29 L431.31,288.95 L431.64,287.84 L431.97,284.89 L432.30,283.47 L432.60,281.56 L432.62,282.49 L432.95,284.58 L433.28,288.81 L433.61,290.55 L433.94,294.29 L434.27,298.02 L434.60,299.58 L434.93,300.25 L435.25,303.89 L435.58,303.24 L435.91,305.14 L436.24,305.77 L436.57,305.93 L436.90,307.00 L437.23,307.29 L437.56,307.50 L437.88,307.64 L438.21,308.22 L438.54,308.22 L438.87,308.43 L439.20,308.58 L439.53,308.72 L439.86,308.80 L440.19,308.87 L440.51,308.90 L440.84,308.93 L441.17,308.93 L441.50,308.96 L441.50,309.00 Z" fill="#151515"/>
<path d="M454.60,309.00 L454.60,307.14 L454.93,305.81 L455.26,304.11 L455.59,303.90 L455.91,304.16 L456.24,304.83 L456.57,304.59 L456.90,303.91 L457.23,302.67 L457.56,302.26 L457.89,299.77 L458.22,297.68 L458.54,292.09 L458.87,286.53 L459.15,281.00 L459.20,280.28 L459.53,266.45 L459.60,265.00 L459.86,271.60 L460.05,276.64 L460.19,278.27 L460.52,283.24 L460.85,287.20 L461.17,291.14 L461.50,292.81 L461.83,296.06 L462.16,296.92 L462.49,298.61 L462.82,298.79 L463.15,300.53 L463.48,301.23 L463.80,301.04 L464.13,301.67 L464.46,301.13 L464.79,301.59 L465.12,301.29 L465.45,301.75 L465.78,301.80 L466.11,301.54 L466.43,302.96 L466.76,303.25 L467.09,301.65 L467.42,303.92 L467.75,302.50 L468.08,302.78 L468.41,304.40 L468.74,302.39 L469.06,302.29 L469.39,303.00 L469.72,302.74 L470.05,302.54 L470.38,304.27 L470.71,303.24 L471.04,303.23 L471.36,302.28 L471.69,302.23 L472.02,302.00 L472.35,302.40 L472.68,301.29 L473.01,301.44 L473.34,300.91 L473.67,301.47 L473.99,301.19 L474.32,299.93 L474.65,298.13 L474.98,297.35 L475.31,293.72 L475.64,292.43 L475.97,289.95 L476.30,287.38 L476.62,284.46 L476.95,282.08 L477.28,280.63 L477.60,276.70 L477.61,276.86 L477.94,280.59 L478.27,284.78 L478.60,288.72 L478.93,294.11 L479.25,295.63 L479.58,299.57 L479.91,302.16 L480.24,303.34 L480.57,303.45 L480.90,305.67 L481.23,305.47 L481.56,305.88 L481.88,307.01 L482.21,307.50 L482.54,307.75 L482.87,307.90 L483.20,308.11 L483.53,308.35 L483.86,308.50 L484.19,308.72 L484.51,308.78 L484.84,308.82 L485.17,308.83 L485.50,308.90 L485.50,309.00 Z" fill="#151515"/>
<path d="M51.50,412.00 L51.50,411.88 L51.83,411.70 L52.15,411.56 L52.48,411.16 L52.81,410.40 L53.14,408.97 L53.46,406.22 L53.79,400.99 L54.12,390.99 L54.35,378.84 L54.45,378.43 L54.77,376.41 L54.80,376.31 L55.10,375.79 L55.25,375.50 L55.43,381.33 L55.76,389.87 L56.08,395.52 L56.41,398.84 L56.74,401.49 L57.07,403.27 L57.39,403.60 L57.72,403.94 L58.05,404.83 L58.38,405.19 L58.70,405.44 L59.03,406.41 L59.36,406.92 L59.68,406.49 L60.01,406.42 L60.34,406.55 L60.67,406.04 L60.99,405.95 L61.32,406.75 L61.65,407.08 L61.98,406.94 L62.30,407.32 L62.63,407.33 L62.96,406.52 L63.29,406.29 L63.61,406.70 L63.94,406.62 L64.27,406.72 L64.60,407.50 L64.92,407.62 L65.25,407.00 L65.58,406.92 L65.90,406.89 L66.23,406.30 L66.56,406.38 L66.89,407.17 L67.21,407.29 L67.54,407.13 L67.87,407.45 L68.20,407.22 L68.52,406.34 L68.85,406.24 L69.18,406.58 L69.51,406.36 L69.83,406.48 L70.16,407.08 L70.49,406.78 L70.82,405.93 L71.14,405.69 L71.47,405.28 L71.80,404.39 L72.12,404.29 L72.45,404.64 L72.78,404.16 L73.11,403.56 L73.43,403.38 L73.76,402.50 L74.09,401.28 L74.42,401.07 L74.74,401.18 L75.00,401.20 L75.07,401.23 L75.40,401.84 L75.73,403.07 L76.05,404.66 L76.38,406.32 L76.71,407.86 L77.04,409.14 L77.36,410.12 L77.69,410.81 L78.02,411.28 L78.35,411.50 L78.67,411.74 L79.00,411.86 L79.00,412.00 Z" fill="#151515"/>
<path d="M94.50,412.00 L94.50,411.92 L94.83,411.73 L95.15,411.48 L95.48,411.25 L95.81,410.88 L96.14,409.85 L96.46,407.89 L96.79,404.11 L97.12,396.85 L97.45,382.93 L97.75,358.77 L97.77,358.72 L98.10,357.86 L98.20,357.51 L98.43,357.32 L98.65,357.34 L98.76,363.58 L99.08,378.19 L99.41,387.72 L99.74,394.45 L100.07,399.10 L100.39,401.90 L100.72,403.82 L101.05,405.30 L101.38,406.04 L101.70,406.51 L102.03,407.29 L102.36,407.90 L102.68,408.16 L103.01,408.58 L103.34,408.94 L103.67,408.78 L103.99,408.66 L104.32,408.87 L104.65,408.91 L104.98,408.90 L105.30,409.31 L105.63,409.60 L105.96,409.45 L106.29,409.42 L106.61,409.49 L106.94,409.21 L107.27,409.06 L107.60,409.38 L107.92,409.55 L108.25,409.49 L108.58,409.70 L108.90,409.76 L109.23,409.36 L109.56,409.15 L109.89,409.23 L110.21,409.07 L110.54,408.96 L110.87,409.22 L111.20,409.19 L111.52,408.74 L111.85,408.45 L112.18,408.12 L112.51,407.42 L112.83,406.91 L113.16,406.75 L113.49,406.27 L113.82,405.59 L114.14,405.12 L114.47,404.39 L114.80,403.28 L115.12,402.50 L115.45,402.03 L115.78,401.42 L116.11,401.15 L116.30,401.20 L116.43,401.29 L116.76,402.02 L117.09,403.28 L117.42,404.80 L117.74,406.37 L118.07,407.82 L118.40,409.03 L118.73,409.98 L119.05,410.68 L119.38,411.17 L119.71,411.21 L120.04,411.16 L120.36,411.29 L120.69,411.25 L121.02,411.47 L121.35,411.51 L121.67,411.68 L122.00,411.99 L122.00,412.00 Z" fill="#151515"/>
<path d="M139.50,412.00 L139.50,411.92 L139.83,411.71 L140.16,411.40 L140.49,411.10 L140.82,410.93 L141.15,409.94 L141.47,408.03 L141.80,404.37 L142.13,397.30 L142.46,383.70 L142.75,361.77 L142.79,361.69 L143.12,360.80 L143.20,360.46 L143.45,360.41 L143.65,360.49 L143.78,367.61 L144.11,381.33 L144.44,389.97 L144.77,395.62 L145.09,399.65 L145.42,402.22 L145.75,403.91 L146.08,405.52 L146.41,406.71 L146.74,407.25 L147.07,407.74 L147.40,408.18 L147.73,408.14 L148.06,408.13 L148.39,408.54 L148.72,408.80 L149.04,408.88 L149.37,409.26 L149.70,409.48 L150.03,409.21 L150.36,409.10 L150.69,409.23 L151.02,409.10 L151.35,409.09 L151.68,409.51 L152.01,409.68 L152.34,409.53 L152.66,409.58 L152.99,409.55 L153.32,409.16 L153.65,409.04 L153.98,409.28 L154.31,409.25 L154.64,409.17 L154.97,409.35 L155.30,409.17 L155.63,408.58 L155.96,408.26 L156.28,407.98 L156.61,407.40 L156.94,407.04 L157.27,406.90 L157.60,406.30 L157.93,405.44 L158.26,404.77 L158.59,403.84 L158.92,402.65 L159.25,401.92 L159.58,401.44 L159.91,400.76 L160.23,400.35 L160.56,400.36 L160.60,400.00 L160.89,400.40 L161.22,401.54 L161.55,403.11 L161.88,404.86 L162.21,406.55 L162.54,408.04 L162.87,409.25 L163.20,410.17 L163.53,410.82 L163.85,411.27 L164.18,411.38 L164.51,411.13 L164.84,411.34 L165.17,411.73 L165.50,411.96 L165.50,412.00 Z" fill="#151515"/>
<path d="M182.50,412.00 L182.50,411.86 L182.83,411.64 L183.16,411.41 L183.49,410.98 L183.82,410.04 L184.15,408.22 L184.48,404.73 L184.80,398.01 L185.13,385.06 L185.45,361.48 L185.46,361.45 L185.79,360.46 L185.90,360.05 L186.12,359.93 L186.35,359.67 L186.45,365.20 L186.78,379.32 L187.11,388.94 L187.44,395.05 L187.77,399.15 L188.10,402.15 L188.43,403.81 L188.76,404.71 L189.09,405.74 L189.41,406.57 L189.74,406.97 L190.07,407.61 L190.40,408.27 L190.73,408.30 L191.06,408.21 L191.39,408.42 L191.72,408.35 L192.05,408.19 L192.38,408.60 L192.71,409.00 L193.04,408.96 L193.37,409.08 L193.70,409.26 L194.02,408.91 L194.35,408.62 L194.68,408.86 L195.01,408.95 L195.34,408.91 L195.67,409.28 L196.00,409.51 L196.33,409.17 L196.66,408.99 L196.99,409.03 L197.32,408.73 L197.65,408.59 L197.98,408.96 L198.30,409.08 L198.63,408.84 L198.96,408.84 L199.29,408.68 L199.62,408.02 L199.95,407.62 L200.28,407.60 L200.61,407.28 L200.94,406.94 L201.27,406.93 L201.60,406.53 L201.93,405.67 L202.26,405.13 L202.59,404.69 L202.91,403.99 L203.24,403.72 L203.57,403.95 L203.80,403.70 L203.90,403.74 L204.23,404.26 L204.56,405.23 L204.89,406.43 L205.22,407.68 L205.55,408.83 L205.88,409.78 L206.21,410.52 L206.54,411.05 L206.87,411.18 L207.20,411.26 L207.52,411.17 L207.85,411.33 L208.18,411.48 L208.51,411.30 L208.84,411.45 L209.17,411.66 L209.50,412.00 L209.50,412.00 Z" fill="#151515"/>
<path d="M227.00,412.00 L227.00,411.92 L227.33,411.65 L227.65,411.33 L227.98,411.34 L228.31,410.94 L228.64,409.98 L228.96,408.12 L229.29,404.57 L229.62,397.75 L229.94,384.67 L230.25,361.77 L230.27,361.72 L230.60,360.87 L230.70,360.28 L230.93,360.54 L231.15,360.79 L231.25,366.53 L231.58,380.19 L231.91,389.23 L232.23,395.39 L232.56,399.22 L232.89,401.77 L233.22,403.95 L233.54,405.49 L233.87,406.38 L234.20,407.24 L234.52,407.89 L234.85,407.93 L235.18,407.98 L235.51,408.34 L235.83,408.48 L236.16,408.57 L236.49,409.05 L236.81,409.36 L237.14,409.22 L237.47,409.21 L237.80,409.30 L238.12,409.05 L238.45,408.95 L238.78,409.31 L239.10,409.48 L239.43,409.43 L239.76,409.63 L240.09,409.67 L240.41,409.27 L240.74,409.06 L241.07,409.16 L241.40,409.01 L241.72,408.90 L242.05,409.13 L242.38,409.05 L242.70,408.54 L243.03,408.19 L243.36,407.80 L243.69,407.02 L244.01,406.44 L244.34,406.17 L244.67,405.55 L244.99,404.70 L245.32,404.04 L245.65,403.09 L245.98,401.76 L246.30,400.77 L246.63,400.09 L246.96,399.29 L247.28,398.83 L247.60,398.70 L247.61,398.70 L247.94,399.28 L248.27,400.61 L248.59,402.38 L248.92,404.30 L249.25,406.14 L249.57,407.74 L249.90,409.04 L250.23,410.02 L250.56,410.73 L250.88,411.21 L251.21,411.41 L251.54,411.14 L251.86,411.23 L252.19,411.24 L252.52,411.31 L252.85,411.60 L253.17,411.71 L253.50,411.99 L253.50,412.00 Z" fill="#151515"/>
<path d="M277.00,412.00 L277.00,412.00 L277.33,411.33 L277.66,410.71 L277.98,410.09 L278.31,409.85 L278.64,410.45 L278.97,410.40 L279.29,410.58 L279.62,410.52 L279.95,409.88 L280.28,410.15 L280.60,410.18 L280.93,410.37 L281.26,410.81 L281.59,410.26 L281.92,410.18 L282.24,410.09 L282.57,409.54 L282.90,407.28 L283.23,402.94 L283.55,394.62 L283.88,378.66 L283.95,373.77 L284.21,373.15 L284.40,372.35 L284.54,372.20 L284.85,372.19 L284.86,372.83 L285.19,384.84 L285.52,392.59 L285.85,397.77 L286.18,401.50 L286.50,403.74 L286.83,404.96 L287.16,406.04 L287.49,406.88 L287.81,407.27 L288.14,407.84 L288.47,408.54 L288.80,408.75 L289.12,408.76 L289.45,408.98 L289.78,408.95 L290.11,408.70 L290.43,408.90 L290.76,409.26 L291.09,409.28 L291.42,409.42 L291.75,409.71 L292.07,409.54 L292.40,409.22 L292.73,409.30 L293.06,409.34 L293.38,409.22 L293.71,409.48 L294.04,409.84 L294.37,409.73 L294.69,409.59 L295.02,409.66 L295.35,409.45 L295.68,409.18 L296.01,409.40 L296.33,409.66 L296.66,409.61 L296.99,409.74 L297.32,409.93 L297.64,409.64 L297.97,409.35 L298.30,409.46 L298.63,409.45 L298.95,409.36 L299.28,409.67 L299.61,409.94 L299.94,409.74 L300.27,409.62 L300.59,409.65 L300.92,409.36 L301.25,409.12 L301.58,409.34 L301.90,409.40 L302.23,409.10 L302.56,408.91 L302.89,408.45 L303.21,407.28 L303.54,405.98 L303.87,404.70 L304.20,402.93 L304.52,400.95 L304.85,399.32 L305.18,397.73 L305.51,396.38 L305.60,396.20 L305.84,396.78 L306.16,398.85 L306.49,401.64 L306.82,404.51 L307.15,407.00 L307.47,408.92 L307.80,410.24 L308.13,410.26 L308.46,409.87 L308.78,410.25 L309.11,410.16 L309.44,410.59 L309.77,410.69 L310.10,410.11 L310.42,410.22 L310.75,409.97 L311.08,410.16 L311.41,410.73 L311.73,410.40 L312.06,410.45 L312.39,410.15 L312.72,409.82 L313.04,410.69 L313.37,411.34 L313.70,412.00 L313.70,412.00 Z" fill="#151515"/>
<path d="M323.00,412.00 L323.00,412.00 L323.33,411.39 L323.66,410.80 L323.99,410.45 L324.31,410.47 L324.64,409.84 L324.97,410.12 L325.30,410.36 L325.63,410.38 L325.96,410.51 L326.29,409.13 L326.62,406.47 L326.94,401.35 L327.27,391.48 L327.60,372.47 L327.75,358.90 L327.93,358.61 L328.20,357.97 L328.26,357.95 L328.59,357.78 L328.65,357.76 L328.92,372.04 L329.25,384.34 L329.57,392.33 L329.90,397.57 L330.23,401.25 L330.56,403.59 L330.89,405.01 L331.22,406.22 L331.55,407.24 L331.88,407.83 L332.20,408.38 L332.53,408.96 L332.86,409.14 L333.19,409.13 L333.52,409.33 L333.85,409.43 L334.18,409.40 L334.50,409.65 L334.83,409.98 L335.16,409.95 L335.49,410.02 L335.82,410.15 L336.15,410.02 L336.48,409.82 L336.81,409.84 L337.13,410.13 L337.46,410.11 L337.79,410.28 L338.12,410.46 L338.45,410.13 L338.78,410.12 L339.11,410.03 L339.44,410.09 L339.76,410.03 L340.09,410.27 L340.42,410.40 L340.75,410.22 L341.08,409.80 L341.41,410.37 L341.74,410.17 L342.07,410.02 L342.39,410.21 L342.72,409.94 L343.05,410.08 L343.38,410.21 L343.71,410.27 L344.04,410.30 L344.37,410.18 L344.70,410.15 L345.02,410.13 L345.35,409.90 L345.68,410.39 L346.01,410.49 L346.34,410.33 L346.67,410.32 L347.00,409.84 L347.32,409.87 L347.65,409.63 L347.98,409.54 L348.31,409.09 L348.64,408.37 L348.97,407.52 L349.30,406.07 L349.63,403.96 L349.95,401.70 L350.28,399.30 L350.61,396.73 L350.94,394.73 L351.27,393.89 L351.30,393.70 L351.60,394.75 L351.93,397.42 L352.26,400.77 L352.58,404.05 L352.91,406.82 L353.24,408.87 L353.57,410.25 L353.90,410.31 L354.23,410.67 L354.56,410.51 L354.89,409.94 L355.21,410.19 L355.54,410.40 L355.87,411.34 L356.20,412.00 L356.20,412.00 Z" fill="#151515"/>
<path d="M368.00,412.00 L368.00,412.00 L368.33,411.46 L368.66,410.62 L368.98,410.40 L369.31,409.91 L369.64,410.03 L369.97,410.54 L370.30,410.39 L370.62,410.66 L370.95,410.28 L371.28,409.20 L371.61,406.61 L371.94,401.63 L372.27,392.06 L372.59,373.63 L372.75,359.60 L372.92,359.33 L373.20,358.85 L373.25,358.89 L373.58,358.93 L373.65,358.89 L373.91,372.27 L374.23,384.25 L374.56,392.18 L374.89,397.28 L375.22,400.89 L375.55,403.60 L375.88,405.33 L376.20,406.48 L376.53,407.47 L376.86,408.01 L377.19,408.19 L377.52,408.54 L377.84,408.93 L378.17,409.09 L378.50,409.36 L378.83,409.76 L379.16,409.82 L379.48,409.72 L379.81,409.82 L380.14,409.83 L380.47,409.69 L380.80,409.86 L381.12,410.16 L381.45,409.82 L381.78,410.15 L382.11,410.34 L382.44,410.20 L382.77,409.96 L383.09,410.05 L383.42,409.99 L383.75,410.12 L384.08,410.09 L384.41,410.51 L384.73,410.38 L385.06,410.19 L385.39,410.26 L385.72,409.86 L386.05,410.02 L386.38,410.22 L386.70,410.40 L387.03,410.37 L387.36,410.04 L387.69,409.91 L388.02,410.25 L388.34,410.05 L388.67,410.18 L389.00,410.24 L389.33,409.96 L389.66,410.19 L389.98,410.02 L390.31,410.24 L390.64,410.01 L390.97,409.88 L391.30,409.47 L391.62,408.95 L391.95,408.55 L392.28,407.75 L392.61,406.37 L392.94,404.77 L393.27,402.82 L393.59,400.36 L393.92,398.06 L394.25,396.40 L394.58,395.47 L394.60,395.50 L394.91,396.49 L395.23,398.91 L395.56,401.92 L395.89,404.87 L396.22,407.35 L396.55,409.19 L396.88,410.43 L397.20,410.33 L397.53,410.23 L397.86,409.80 L398.19,410.37 L398.52,410.50 L398.84,410.74 L399.17,411.43 L399.50,412.00 L399.50,412.00 Z" fill="#151515"/>
<path d="M411.00,412.00 L411.00,412.00 L411.33,411.40 L411.65,410.30 L411.98,410.16 L412.31,410.12 L412.63,410.35 L412.96,410.80 L413.29,410.29 L413.62,410.24 L413.94,410.08 L414.27,409.92 L414.60,410.59 L414.92,410.51 L415.25,409.36 L415.58,406.94 L415.90,402.28 L416.23,393.35 L416.56,376.20 L416.75,359.60 L416.89,359.39 L417.20,358.85 L417.21,358.86 L417.54,358.94 L417.65,358.88 L417.87,370.44 L418.19,382.87 L418.52,391.29 L418.85,396.80 L419.18,400.53 L419.50,403.36 L419.83,405.26 L420.16,406.35 L420.48,407.21 L420.81,407.87 L421.14,408.12 L421.46,408.41 L421.79,408.92 L422.12,409.23 L422.44,409.38 L422.77,409.69 L423.10,409.83 L423.43,409.65 L423.75,409.64 L424.08,409.81 L424.41,409.79 L424.73,409.87 L425.06,410.19 L425.39,410.29 L425.71,410.15 L426.04,410.02 L426.37,409.92 L426.70,409.96 L427.02,409.97 L427.35,410.23 L427.68,410.29 L428.00,409.83 L428.33,410.20 L428.66,410.25 L428.99,410.13 L429.31,410.10 L429.64,410.17 L429.97,410.13 L430.29,410.10 L430.62,410.03 L430.95,410.48 L431.27,410.31 L431.60,410.32 L431.93,410.27 L432.25,409.80 L432.58,410.11 L432.91,410.36 L433.24,410.36 L433.56,410.35 L433.89,410.04 L434.22,409.98 L434.54,410.00 L434.87,409.91 L435.20,409.82 L435.52,409.46 L435.85,409.13 L436.18,408.71 L436.51,407.67 L436.83,406.19 L437.16,404.55 L437.49,402.47 L437.81,400.08 L438.14,398.05 L438.47,396.50 L438.80,395.58 L438.80,395.50 L439.12,396.58 L439.45,399.04 L439.78,402.05 L440.10,404.98 L440.43,407.42 L440.76,409.24 L441.08,410.45 L441.41,410.77 L441.74,410.20 L442.06,410.24 L442.39,410.02 L442.72,410.01 L443.05,410.91 L443.37,411.37 L443.70,412.00 L443.70,412.00 Z" fill="#151515"/>
<path d="M453.80,412.00 L453.80,412.00 L454.13,411.32 L454.45,410.36 L454.78,409.95 L455.11,410.58 L455.44,410.44 L455.76,410.56 L456.09,410.37 L456.42,409.82 L456.74,410.22 L457.07,410.27 L457.40,410.47 L457.73,410.76 L458.05,410.13 L458.38,408.63 L458.71,405.54 L459.03,399.60 L459.36,388.19 L459.69,366.28 L459.75,360.40 L460.02,359.95 L460.20,359.45 L460.34,359.58 L460.65,359.68 L460.67,360.94 L461.00,376.72 L461.33,387.27 L461.65,394.23 L461.98,398.63 L462.31,401.74 L462.63,404.10 L462.96,405.63 L463.29,406.71 L463.62,407.71 L463.94,408.28 L464.27,408.45 L464.60,408.72 L464.92,409.01 L465.25,409.06 L465.58,409.28 L465.91,409.70 L466.23,409.85 L466.56,409.83 L466.89,409.97 L467.21,409.96 L467.54,409.75 L467.87,409.81 L468.20,410.04 L468.52,409.87 L468.85,410.15 L469.18,410.14 L469.50,410.34 L469.83,410.10 L470.16,410.11 L470.49,410.14 L470.81,410.00 L471.14,410.07 L471.47,410.43 L471.80,410.41 L472.12,410.31 L472.45,410.24 L472.78,409.80 L473.10,410.02 L473.43,410.11 L473.76,410.30 L474.09,410.28 L474.41,409.99 L474.74,410.08 L475.07,410.17 L475.39,410.17 L475.72,410.20 L476.05,410.20 L476.38,410.09 L476.70,410.18 L477.03,409.86 L477.36,410.38 L477.68,410.25 L478.01,410.22 L478.34,409.91 L478.67,409.47 L478.99,409.23 L479.32,408.82 L479.65,407.93 L479.97,406.87 L480.30,405.46 L480.63,403.35 L480.96,400.96 L481.28,398.74 L481.61,396.63 L481.94,395.10 L482.10,395.00 L482.27,395.34 L482.59,397.32 L482.92,400.24 L483.25,403.37 L483.57,406.16 L483.90,408.35 L484.23,409.88 L484.56,410.21 L484.88,409.83 L485.21,410.31 L485.54,410.27 L485.86,410.59 L486.19,410.66 L486.52,410.02 L486.85,410.49 L487.17,411.20 L487.50,412.00 L487.50,412.00 Z" fill="#151515"/>
<text x="66.80" y="311.00" font-size="8.8" text-anchor="end" transform="rotate(-90 66.80 311.00)" fill="#1c1c1c">Vehicle</text>
<text x="110.00" y="319.00" font-size="8.2" text-anchor="middle" fill="#1c1c1c">0.1</text>
<text x="155.00" y="319.00" font-size="8.2" text-anchor="middle" fill="#1c1c1c">0.5</text>
<text x="196.50" y="319.00" font-size="8.2" text-anchor="middle" fill="#1c1c1c">0.1</text>
<text x="241.00" y="319.00" font-size="8.2" text-anchor="middle" fill="#1c1c1c">0.5</text>
<line x1="100.00" y1="322.50" x2="173.75" y2="322.50" stroke="#444" stroke-width="1"/>
<line x1="182.50" y1="322.50" x2="252.00" y2="322.50" stroke="#444" stroke-width="1"/>
<text x="131.50" y="331.00" font-size="8.8" text-anchor="middle" fill="#1c1c1c">BGJ398</text>
<text x="219.50" y="331.00" font-size="8.8" text-anchor="middle" fill="#1c1c1c">AZD4547</text>
<text x="252.30" y="319.00" font-size="8.8" fill="#1c1c1c">(µmol/L)</text>
<text x="298.70" y="311.00" font-size="8.8" text-anchor="end" transform="rotate(-90 298.70 311.00)" fill="#1c1c1c">Vehicle</text>
<text x="340.00" y="319.00" font-size="8.2" text-anchor="middle" fill="#1c1c1c">1</text>
<text x="384.00" y="319.00" font-size="8.2" text-anchor="middle" fill="#1c1c1c">2</text>
<text x="425.50" y="319.00" font-size="8.2" text-anchor="middle" fill="#1c1c1c">1</text>
<text x="473.50" y="319.00" font-size="8.2" text-anchor="middle" fill="#1c1c1c">2</text>
<line x1="327.50" y1="322.50" x2="402.00" y2="322.50" stroke="#444" stroke-width="1"/>
<line x1="413.75" y1="322.50" x2="485.00" y2="322.50" stroke="#444" stroke-width="1"/>
<text x="359.00" y="331.00" font-size="8.8" text-anchor="middle" fill="#1c1c1c">BGJ398</text>
<text x="450.00" y="331.00" font-size="8.8" text-anchor="middle" fill="#1c1c1c">AZD4547</text>
<text x="487.00" y="319.00" font-size="8.8" fill="#1c1c1c">(µmol/L)</text>
<text x="66.80" y="414.50" font-size="8.8" text-anchor="end" transform="rotate(-90 66.80 414.50)" fill="#1c1c1c">Vehicle</text>
<text x="105.60" y="422.00" font-size="8.2" text-anchor="middle" fill="#1c1c1c">0.05</text>
<text x="151.80" y="422.00" font-size="8.2" text-anchor="middle" fill="#1c1c1c">0.1</text>
<text x="198.75" y="422.00" font-size="8.2" text-anchor="middle" fill="#1c1c1c">0.05</text>
<text x="239.60" y="422.00" font-size="8.2" text-anchor="middle" fill="#1c1c1c">0.1</text>
<line x1="88.75" y1="425.50" x2="168.75" y2="425.50" stroke="#444" stroke-width="1"/>
<line x1="179.50" y1="425.50" x2="250.50" y2="425.50" stroke="#444" stroke-width="1"/>
<text x="135.00" y="434.00" font-size="8.8" text-anchor="middle" fill="#1c1c1c">BGJ398</text>
<text x="218.70" y="434.00" font-size="8.8" text-anchor="middle" fill="#1c1c1c">AZD4547</text>
<text x="252.30" y="422.00" font-size="8.8" fill="#1c1c1c">(µmol/L)</text>
<text x="298.70" y="414.50" font-size="8.8" text-anchor="end" transform="rotate(-90 298.70 414.50)" fill="#1c1c1c">Vehicle</text>
<text x="338.00" y="422.00" font-size="8.2" text-anchor="middle" fill="#1c1c1c">0.05</text>
<text x="383.00" y="422.00" font-size="8.2" text-anchor="middle" fill="#1c1c1c">0.1</text>
<text x="431.50" y="422.00" font-size="8.2" text-anchor="middle" fill="#1c1c1c">0.05</text>
<text x="473.00" y="422.00" font-size="8.2" text-anchor="middle" fill="#1c1c1c">0.1</text>
<line x1="320.00" y1="425.50" x2="401.00" y2="425.50" stroke="#444" stroke-width="1"/>
<line x1="414.50" y1="425.50" x2="485.00" y2="425.50" stroke="#444" stroke-width="1"/>
<text x="365.50" y="434.00" font-size="8.8" text-anchor="middle" fill="#1c1c1c">BGJ398</text>
<text x="450.60" y="434.00" font-size="8.8" text-anchor="middle" fill="#1c1c1c">AZD4547</text>
<text x="487.00" y="422.00" font-size="8.8" fill="#1c1c1c">(µmol/L)</text>
<text x="0.80" y="474.20" font-size="16.3" font-weight="bold" fill="#000">C</text>
<rect x="45.40" y="538.60" width="5.10" height="42.70" fill="#fff" stroke="#555" stroke-width="0.6"/>
<line x1="47.90" y1="537.07" x2="47.90" y2="538.60" stroke="#222" stroke-width="0.7"/>
<line x1="46.70" y1="537.07" x2="49.10" y2="537.07" stroke="#222" stroke-width="0.7"/>
<rect x="40.00" y="505.81" width="5.40" height="75.49" fill="#161616"/>
<line x1="42.70" y1="505.81" x2="42.70" y2="503.98" stroke="#161616" stroke-width="1.0"/>
<line x1="41.40" y1="503.98" x2="44.00" y2="503.98" stroke="#161616" stroke-width="1.3"/>
<rect x="50.40" y="547.29" width="5.30" height="34.01" fill="#b0b0b0" stroke="#9c9c9c" stroke-width="0.5"/>
<line x1="52.90" y1="547.29" x2="52.90" y2="545.46" stroke="#161616" stroke-width="1.0"/>
<line x1="51.60" y1="545.46" x2="54.20" y2="545.46" stroke="#161616" stroke-width="1.3"/>
<rect x="64.15" y="546.22" width="5.10" height="35.08" fill="#fff" stroke="#555" stroke-width="0.6"/>
<line x1="66.65" y1="545.46" x2="66.65" y2="546.22" stroke="#222" stroke-width="0.7"/>
<line x1="65.45" y1="545.46" x2="67.85" y2="545.46" stroke="#222" stroke-width="0.7"/>
<rect x="58.75" y="493.92" width="5.40" height="87.38" fill="#161616"/>
<line x1="61.45" y1="493.92" x2="61.45" y2="493.31" stroke="#161616" stroke-width="1.0"/>
<line x1="60.15" y1="493.31" x2="62.75" y2="493.31" stroke="#161616" stroke-width="1.3"/>
<rect x="69.15" y="550.80" width="5.30" height="30.50" fill="#b0b0b0" stroke="#9c9c9c" stroke-width="0.5"/>
<line x1="71.65" y1="550.80" x2="71.65" y2="550.04" stroke="#161616" stroke-width="1.0"/>
<line x1="70.35" y1="550.04" x2="72.95" y2="550.04" stroke="#161616" stroke-width="1.3"/>
<rect x="83.00" y="547.75" width="5.10" height="33.55" fill="#fff" stroke="#555" stroke-width="0.6"/>
<line x1="85.50" y1="546.99" x2="85.50" y2="547.75" stroke="#222" stroke-width="0.7"/>
<line x1="84.30" y1="546.99" x2="86.70" y2="546.99" stroke="#222" stroke-width="0.7"/>
<rect x="77.60" y="492.39" width="5.40" height="88.91" fill="#161616"/>
<line x1="80.30" y1="492.39" x2="80.30" y2="490.10" stroke="#161616" stroke-width="1.0"/>
<line x1="79.00" y1="490.10" x2="81.60" y2="490.10" stroke="#161616" stroke-width="1.3"/>
<rect x="88.00" y="550.34" width="5.30" height="30.96" fill="#b0b0b0" stroke="#9c9c9c" stroke-width="0.5"/>
<line x1="90.50" y1="550.34" x2="90.50" y2="548.82" stroke="#161616" stroke-width="1.0"/>
<line x1="89.20" y1="548.82" x2="91.80" y2="548.82" stroke="#161616" stroke-width="1.3"/>
<rect x="101.70" y="545.77" width="5.10" height="35.53" fill="#fff" stroke="#555" stroke-width="0.6"/>
<line x1="104.20" y1="543.94" x2="104.20" y2="545.77" stroke="#222" stroke-width="0.7"/>
<line x1="103.00" y1="543.94" x2="105.40" y2="543.94" stroke="#222" stroke-width="0.7"/>
<rect x="96.30" y="496.97" width="5.40" height="84.33" fill="#161616"/>
<line x1="99.00" y1="496.97" x2="99.00" y2="495.75" stroke="#161616" stroke-width="1.0"/>
<line x1="97.70" y1="495.75" x2="100.30" y2="495.75" stroke="#161616" stroke-width="1.3"/>
<rect x="106.70" y="548.05" width="5.30" height="33.25" fill="#b0b0b0" stroke="#9c9c9c" stroke-width="0.5"/>
<line x1="109.20" y1="548.05" x2="109.20" y2="546.83" stroke="#161616" stroke-width="1.0"/>
<line x1="107.90" y1="546.83" x2="110.50" y2="546.83" stroke="#161616" stroke-width="1.3"/>
<rect x="120.40" y="545.92" width="5.10" height="35.38" fill="#fff" stroke="#555" stroke-width="0.6"/>
<line x1="122.90" y1="545.31" x2="122.90" y2="545.92" stroke="#222" stroke-width="0.7"/>
<line x1="121.70" y1="545.31" x2="124.10" y2="545.31" stroke="#222" stroke-width="0.7"/>
<rect x="115.00" y="494.37" width="5.40" height="86.93" fill="#161616"/>
<line x1="117.70" y1="494.37" x2="117.70" y2="493.15" stroke="#161616" stroke-width="1.0"/>
<line x1="116.40" y1="493.15" x2="119.00" y2="493.15" stroke="#161616" stroke-width="1.3"/>
<rect x="125.40" y="550.50" width="5.30" height="30.80" fill="#b0b0b0" stroke="#9c9c9c" stroke-width="0.5"/>
<line x1="127.90" y1="550.50" x2="127.90" y2="549.88" stroke="#161616" stroke-width="1.0"/>
<line x1="126.60" y1="549.88" x2="129.20" y2="549.88" stroke="#161616" stroke-width="1.3"/>
<line x1="38.40" y1="488.50" x2="38.40" y2="581.80" stroke="#4a4a4a" stroke-width="1.1"/>
<line x1="36.10" y1="581.30" x2="38.40" y2="581.30" stroke="#4a4a4a" stroke-width="1"/>
<text x="34.80" y="584.60" font-size="8.8" text-anchor="end" fill="#1c1c1c">0</text>
<line x1="36.10" y1="550.80" x2="38.40" y2="550.80" stroke="#4a4a4a" stroke-width="1"/>
<text x="34.80" y="554.10" font-size="8.8" text-anchor="end" fill="#1c1c1c">20</text>
<line x1="36.10" y1="520.30" x2="38.40" y2="520.30" stroke="#4a4a4a" stroke-width="1"/>
<text x="34.80" y="523.60" font-size="8.8" text-anchor="end" fill="#1c1c1c">40</text>
<line x1="36.10" y1="489.80" x2="38.40" y2="489.80" stroke="#4a4a4a" stroke-width="1"/>
<text x="34.80" y="493.10" font-size="8.8" text-anchor="end" fill="#1c1c1c">60</text>
<line x1="36.10" y1="581.30" x2="132.50" y2="581.30" stroke="#2a2a2a" stroke-width="1.4"/>
<line x1="57.05" y1="581.30" x2="57.05" y2="583.80" stroke="#4a4a4a" stroke-width="1"/>
<line x1="75.90" y1="581.30" x2="75.90" y2="583.80" stroke="#4a4a4a" stroke-width="1"/>
<line x1="94.60" y1="581.30" x2="94.60" y2="583.80" stroke="#4a4a4a" stroke-width="1"/>
<line x1="113.30" y1="581.30" x2="113.30" y2="583.80" stroke="#4a4a4a" stroke-width="1"/>
<line x1="132.50" y1="581.30" x2="132.50" y2="583.80" stroke="#4a4a4a" stroke-width="1"/>
<text x="81.30" y="477.50" font-size="8.8" text-anchor="middle" fill="#1c1c1c">DMS114</text>
<text x="61.45" y="488.00" font-size="6.5" text-anchor="middle" fill="#222">**</text>
<text x="80.30" y="488.00" font-size="6.5" text-anchor="middle" fill="#222">**</text>
<text x="99.00" y="488.00" font-size="6.5" text-anchor="middle" fill="#222">**</text>
<text x="117.70" y="488.00" font-size="6.5" text-anchor="middle" fill="#222">**</text>
<text x="52.30" y="590.20" font-size="8.6" text-anchor="end" transform="rotate(-90 52.30 590.20)" fill="#1c1c1c">Vehicle</text>
<text x="68.00" y="596.20" font-size="8.8" text-anchor="middle" fill="#1c1c1c">0.1</text>
<text x="85.30" y="596.20" font-size="8.8" text-anchor="middle" fill="#1c1c1c">0.5</text>
<text x="105.50" y="596.20" font-size="8.8" text-anchor="middle" fill="#1c1c1c">0.1</text>
<text x="123.50" y="596.20" font-size="8.8" text-anchor="middle" fill="#1c1c1c">0.5</text>
<line x1="60.00" y1="600.20" x2="93.75" y2="600.20" stroke="#333" stroke-width="0.9"/>
<line x1="98.00" y1="600.20" x2="133.00" y2="600.20" stroke="#333" stroke-width="0.9"/>
<text x="76.30" y="609.90" font-size="8.8" text-anchor="middle" fill="#1c1c1c">BGJ398</text>
<text x="115.40" y="609.90" font-size="8.8" text-anchor="middle" fill="#1c1c1c">AZD4547</text>
<line x1="165.90" y1="539.25" x2="165.90" y2="543.75" stroke="#222" stroke-width="0.7"/>
<line x1="164.70" y1="539.25" x2="167.10" y2="539.25" stroke="#222" stroke-width="0.7"/>
<line x1="164.70" y1="543.75" x2="167.10" y2="543.75" stroke="#222" stroke-width="0.7"/>
<rect x="158.00" y="517.50" width="5.40" height="64.50" fill="#161616"/>
<line x1="160.70" y1="517.50" x2="160.70" y2="516.00" stroke="#161616" stroke-width="1.0"/>
<line x1="159.40" y1="516.00" x2="162.00" y2="516.00" stroke="#161616" stroke-width="1.3"/>
<rect x="168.40" y="535.50" width="5.30" height="46.50" fill="#b0b0b0" stroke="#9c9c9c" stroke-width="0.5"/>
<line x1="170.90" y1="535.50" x2="170.90" y2="531.00" stroke="#161616" stroke-width="1.0"/>
<line x1="169.60" y1="531.00" x2="172.20" y2="531.00" stroke="#161616" stroke-width="1.3"/>
<line x1="182.10" y1="566.25" x2="185.80" y2="566.25" stroke="#111" stroke-width="1.2"/>
<rect x="176.40" y="492.00" width="5.40" height="90.00" fill="#161616"/>
<line x1="179.10" y1="492.00" x2="179.10" y2="491.40" stroke="#161616" stroke-width="1.0"/>
<line x1="177.80" y1="491.40" x2="180.40" y2="491.40" stroke="#161616" stroke-width="1.3"/>
<rect x="186.80" y="537.45" width="5.30" height="44.55" fill="#b0b0b0" stroke="#9c9c9c" stroke-width="0.5"/>
<line x1="189.30" y1="537.45" x2="189.30" y2="536.70" stroke="#161616" stroke-width="1.0"/>
<line x1="188.00" y1="536.70" x2="190.60" y2="536.70" stroke="#161616" stroke-width="1.3"/>
<line x1="200.90" y1="566.25" x2="204.60" y2="566.25" stroke="#111" stroke-width="1.2"/>
<rect x="195.20" y="491.70" width="5.40" height="90.30" fill="#161616"/>
<line x1="197.90" y1="491.70" x2="197.90" y2="490.50" stroke="#161616" stroke-width="1.0"/>
<line x1="196.60" y1="490.50" x2="199.20" y2="490.50" stroke="#161616" stroke-width="1.3"/>
<rect x="205.60" y="538.50" width="5.30" height="43.50" fill="#b0b0b0" stroke="#9c9c9c" stroke-width="0.5"/>
<line x1="208.10" y1="538.50" x2="208.10" y2="538.05" stroke="#161616" stroke-width="1.0"/>
<line x1="206.80" y1="538.05" x2="209.40" y2="538.05" stroke="#161616" stroke-width="1.3"/>
<line x1="221.80" y1="555.15" x2="221.80" y2="556.35" stroke="#222" stroke-width="0.7"/>
<line x1="220.60" y1="555.15" x2="223.00" y2="555.15" stroke="#222" stroke-width="0.7"/>
<line x1="220.60" y1="556.35" x2="223.00" y2="556.35" stroke="#222" stroke-width="0.7"/>
<rect x="213.90" y="504.00" width="5.40" height="78.00" fill="#161616"/>
<line x1="216.60" y1="504.00" x2="216.60" y2="499.80" stroke="#161616" stroke-width="1.0"/>
<line x1="215.30" y1="499.80" x2="217.90" y2="499.80" stroke="#161616" stroke-width="1.3"/>
<rect x="224.30" y="535.50" width="5.30" height="46.50" fill="#b0b0b0" stroke="#9c9c9c" stroke-width="0.5"/>
<line x1="226.80" y1="535.50" x2="226.80" y2="530.25" stroke="#161616" stroke-width="1.0"/>
<line x1="225.50" y1="530.25" x2="228.10" y2="530.25" stroke="#161616" stroke-width="1.3"/>
<line x1="238.30" y1="565.50" x2="242.00" y2="565.50" stroke="#111" stroke-width="1.2"/>
<rect x="232.60" y="495.75" width="5.40" height="86.25" fill="#161616"/>
<line x1="235.30" y1="495.75" x2="235.30" y2="495.15" stroke="#161616" stroke-width="1.0"/>
<line x1="234.00" y1="495.15" x2="236.60" y2="495.15" stroke="#161616" stroke-width="1.3"/>
<rect x="243.00" y="535.05" width="5.30" height="46.95" fill="#b0b0b0" stroke="#9c9c9c" stroke-width="0.5"/>
<line x1="245.50" y1="535.05" x2="245.50" y2="534.15" stroke="#161616" stroke-width="1.0"/>
<line x1="244.20" y1="534.15" x2="246.80" y2="534.15" stroke="#161616" stroke-width="1.3"/>
<line x1="156.00" y1="488.70" x2="156.00" y2="582.50" stroke="#4a4a4a" stroke-width="1.1"/>
<line x1="153.70" y1="582.00" x2="156.00" y2="582.00" stroke="#4a4a4a" stroke-width="1"/>
<text x="152.40" y="585.30" font-size="8.8" text-anchor="end" fill="#1c1c1c">0</text>
<line x1="153.70" y1="552.00" x2="156.00" y2="552.00" stroke="#4a4a4a" stroke-width="1"/>
<text x="152.40" y="555.30" font-size="8.8" text-anchor="end" fill="#1c1c1c">20</text>
<line x1="153.70" y1="522.00" x2="156.00" y2="522.00" stroke="#4a4a4a" stroke-width="1"/>
<text x="152.40" y="525.30" font-size="8.8" text-anchor="end" fill="#1c1c1c">40</text>
<line x1="153.70" y1="492.00" x2="156.00" y2="492.00" stroke="#4a4a4a" stroke-width="1"/>
<text x="152.40" y="495.30" font-size="8.8" text-anchor="end" fill="#1c1c1c">60</text>
<line x1="153.70" y1="582.00" x2="249.50" y2="582.00" stroke="#2a2a2a" stroke-width="1.4"/>
<line x1="174.70" y1="582.00" x2="174.70" y2="584.50" stroke="#4a4a4a" stroke-width="1"/>
<line x1="193.50" y1="582.00" x2="193.50" y2="584.50" stroke="#4a4a4a" stroke-width="1"/>
<line x1="212.20" y1="582.00" x2="212.20" y2="584.50" stroke="#4a4a4a" stroke-width="1"/>
<line x1="230.90" y1="582.00" x2="230.90" y2="584.50" stroke="#4a4a4a" stroke-width="1"/>
<line x1="249.50" y1="582.00" x2="249.50" y2="584.50" stroke="#4a4a4a" stroke-width="1"/>
<text x="200.00" y="477.50" font-size="8.8" text-anchor="middle" fill="#1c1c1c">NCI-H1581</text>
<text x="179.10" y="487.50" font-size="6.5" text-anchor="middle" fill="#222">**</text>
<text x="197.90" y="487.50" font-size="6.5" text-anchor="middle" fill="#222">**</text>
<text x="216.60" y="487.50" font-size="6.5" text-anchor="middle" fill="#222">**</text>
<text x="235.30" y="487.50" font-size="6.5" text-anchor="middle" fill="#222">**</text>
<text x="169.30" y="590.90" font-size="8.6" text-anchor="end" transform="rotate(-90 169.30 590.90)" fill="#1c1c1c">Vehicle</text>
<text x="182.80" y="596.90" font-size="8.8" text-anchor="middle" fill="#1c1c1c">0.1</text>
<text x="202.00" y="596.90" font-size="8.8" text-anchor="middle" fill="#1c1c1c">0.5</text>
<text x="222.50" y="596.90" font-size="8.8" text-anchor="middle" fill="#1c1c1c">0.1</text>
<text x="241.50" y="596.90" font-size="8.8" text-anchor="middle" fill="#1c1c1c">0.5</text>
<line x1="175.00" y1="600.90" x2="210.00" y2="600.90" stroke="#333" stroke-width="0.9"/>
<line x1="213.75" y1="600.90" x2="251.00" y2="600.90" stroke="#333" stroke-width="0.9"/>
<text x="190.80" y="610.60" font-size="8.8" text-anchor="middle" fill="#1c1c1c">BGJ398</text>
<text x="232.70" y="610.60" font-size="8.8" text-anchor="middle" fill="#1c1c1c">AZD4547</text>
<rect x="276.70" y="516.94" width="5.10" height="64.26" fill="#fff" stroke="#555" stroke-width="0.6"/>
<line x1="277.00" y1="516.94" x2="280.70" y2="516.94" stroke="#111" stroke-width="1.2"/>
<rect x="271.30" y="506.54" width="5.40" height="74.66" fill="#161616"/>
<line x1="274.00" y1="506.54" x2="274.00" y2="504.09" stroke="#161616" stroke-width="1.0"/>
<line x1="272.70" y1="504.09" x2="275.30" y2="504.09" stroke="#161616" stroke-width="1.3"/>
<rect x="281.70" y="515.31" width="5.30" height="65.89" fill="#b0b0b0" stroke="#9c9c9c" stroke-width="0.5"/>
<line x1="284.20" y1="515.31" x2="284.20" y2="511.43" stroke="#161616" stroke-width="1.0"/>
<line x1="282.90" y1="511.43" x2="285.50" y2="511.43" stroke="#161616" stroke-width="1.3"/>
<rect x="295.40" y="515.92" width="5.10" height="65.28" fill="#fff" stroke="#555" stroke-width="0.6"/>
<line x1="297.90" y1="518.37" x2="297.90" y2="515.92" stroke="#222" stroke-width="0.7"/>
<line x1="296.70" y1="518.37" x2="299.10" y2="518.37" stroke="#222" stroke-width="0.7"/>
<rect x="290.00" y="505.31" width="5.40" height="75.89" fill="#161616"/>
<line x1="292.70" y1="505.31" x2="292.70" y2="500.82" stroke="#161616" stroke-width="1.0"/>
<line x1="291.40" y1="500.82" x2="294.00" y2="500.82" stroke="#161616" stroke-width="1.3"/>
<rect x="300.40" y="517.14" width="5.30" height="64.06" fill="#b0b0b0" stroke="#9c9c9c" stroke-width="0.5"/>
<line x1="302.90" y1="517.14" x2="302.90" y2="515.72" stroke="#161616" stroke-width="1.0"/>
<line x1="301.60" y1="515.72" x2="304.20" y2="515.72" stroke="#161616" stroke-width="1.3"/>
<rect x="313.80" y="517.96" width="5.10" height="63.24" fill="#fff" stroke="#555" stroke-width="0.6"/>
<line x1="316.30" y1="520.00" x2="316.30" y2="517.96" stroke="#222" stroke-width="0.7"/>
<line x1="315.10" y1="520.00" x2="317.50" y2="520.00" stroke="#222" stroke-width="0.7"/>
<rect x="308.40" y="504.29" width="5.40" height="76.91" fill="#161616"/>
<line x1="311.10" y1="504.29" x2="311.10" y2="500.21" stroke="#161616" stroke-width="1.0"/>
<line x1="309.80" y1="500.21" x2="312.40" y2="500.21" stroke="#161616" stroke-width="1.3"/>
<rect x="318.80" y="514.70" width="5.30" height="66.50" fill="#b0b0b0" stroke="#9c9c9c" stroke-width="0.5"/>
<line x1="321.30" y1="514.70" x2="321.30" y2="512.25" stroke="#161616" stroke-width="1.0"/>
<line x1="320.00" y1="512.25" x2="322.60" y2="512.25" stroke="#161616" stroke-width="1.3"/>
<rect x="332.40" y="516.33" width="5.10" height="64.87" fill="#fff" stroke="#555" stroke-width="0.6"/>
<line x1="334.90" y1="518.78" x2="334.90" y2="516.33" stroke="#222" stroke-width="0.7"/>
<line x1="333.70" y1="518.78" x2="336.10" y2="518.78" stroke="#222" stroke-width="0.7"/>
<rect x="327.00" y="508.17" width="5.40" height="73.03" fill="#161616"/>
<line x1="329.70" y1="508.17" x2="329.70" y2="506.13" stroke="#161616" stroke-width="1.0"/>
<line x1="328.40" y1="506.13" x2="331.00" y2="506.13" stroke="#161616" stroke-width="1.3"/>
<rect x="337.40" y="512.66" width="5.30" height="68.54" fill="#b0b0b0" stroke="#9c9c9c" stroke-width="0.5"/>
<line x1="339.90" y1="512.66" x2="339.90" y2="510.21" stroke="#161616" stroke-width="1.0"/>
<line x1="338.60" y1="510.21" x2="341.20" y2="510.21" stroke="#161616" stroke-width="1.3"/>
<rect x="351.20" y="517.96" width="5.10" height="63.24" fill="#fff" stroke="#555" stroke-width="0.6"/>
<line x1="353.70" y1="520.00" x2="353.70" y2="517.96" stroke="#222" stroke-width="0.7"/>
<line x1="352.50" y1="520.00" x2="354.90" y2="520.00" stroke="#222" stroke-width="0.7"/>
<rect x="345.80" y="505.92" width="5.40" height="75.28" fill="#161616"/>
<line x1="348.50" y1="505.92" x2="348.50" y2="503.27" stroke="#161616" stroke-width="1.0"/>
<line x1="347.20" y1="503.27" x2="349.80" y2="503.27" stroke="#161616" stroke-width="1.3"/>
<rect x="356.20" y="512.25" width="5.30" height="68.95" fill="#b0b0b0" stroke="#9c9c9c" stroke-width="0.5"/>
<line x1="358.70" y1="512.25" x2="358.70" y2="511.43" stroke="#161616" stroke-width="1.0"/>
<line x1="357.40" y1="511.43" x2="360.00" y2="511.43" stroke="#161616" stroke-width="1.3"/>
<line x1="269.50" y1="490.00" x2="269.50" y2="581.70" stroke="#4a4a4a" stroke-width="1.1"/>
<line x1="267.20" y1="581.20" x2="269.50" y2="581.20" stroke="#4a4a4a" stroke-width="1"/>
<text x="265.90" y="584.50" font-size="8.8" text-anchor="end" fill="#1c1c1c">0</text>
<line x1="267.20" y1="560.80" x2="269.50" y2="560.80" stroke="#4a4a4a" stroke-width="1"/>
<text x="265.90" y="564.10" font-size="8.8" text-anchor="end" fill="#1c1c1c">10</text>
<line x1="267.20" y1="540.40" x2="269.50" y2="540.40" stroke="#4a4a4a" stroke-width="1"/>
<text x="265.90" y="543.70" font-size="8.8" text-anchor="end" fill="#1c1c1c">20</text>
<line x1="267.20" y1="520.00" x2="269.50" y2="520.00" stroke="#4a4a4a" stroke-width="1"/>
<text x="265.90" y="523.30" font-size="8.8" text-anchor="end" fill="#1c1c1c">30</text>
<line x1="267.20" y1="499.60" x2="269.50" y2="499.60" stroke="#4a4a4a" stroke-width="1"/>
<text x="265.90" y="502.90" font-size="8.8" text-anchor="end" fill="#1c1c1c">40</text>
<line x1="267.20" y1="581.20" x2="363.75" y2="581.20" stroke="#2a2a2a" stroke-width="1.4"/>
<line x1="288.30" y1="581.20" x2="288.30" y2="583.70" stroke="#4a4a4a" stroke-width="1"/>
<line x1="306.70" y1="581.20" x2="306.70" y2="583.70" stroke="#4a4a4a" stroke-width="1"/>
<line x1="325.30" y1="581.20" x2="325.30" y2="583.70" stroke="#4a4a4a" stroke-width="1"/>
<line x1="344.10" y1="581.20" x2="344.10" y2="583.70" stroke="#4a4a4a" stroke-width="1"/>
<line x1="363.75" y1="581.20" x2="363.75" y2="583.70" stroke="#4a4a4a" stroke-width="1"/>
<text x="316.00" y="477.50" font-size="8.8" text-anchor="middle" fill="#1c1c1c">NCI-H2444</text>
<text x="283.20" y="590.10" font-size="8.6" text-anchor="end" transform="rotate(-90 283.20 590.10)" fill="#1c1c1c">Vehicle</text>
<text x="296.30" y="596.10" font-size="8.8" text-anchor="middle" fill="#1c1c1c">1</text>
<text x="316.30" y="596.10" font-size="8.8" text-anchor="middle" fill="#1c1c1c">2</text>
<text x="333.80" y="596.10" font-size="8.8" text-anchor="middle" fill="#1c1c1c">1</text>
<text x="353.80" y="596.10" font-size="8.8" text-anchor="middle" fill="#1c1c1c">2</text>
<line x1="288.75" y1="600.10" x2="322.50" y2="600.10" stroke="#333" stroke-width="0.9"/>
<line x1="327.00" y1="600.10" x2="365.00" y2="600.10" stroke="#333" stroke-width="0.9"/>
<text x="304.70" y="609.80" font-size="8.8" text-anchor="middle" fill="#1c1c1c">BGJ398</text>
<text x="346.50" y="609.80" font-size="8.8" text-anchor="middle" fill="#1c1c1c">AZD4547</text>
<line x1="393.70" y1="545.76" x2="397.40" y2="545.76" stroke="#111" stroke-width="1.2"/>
<rect x="388.00" y="514.92" width="5.40" height="66.28" fill="#161616"/>
<line x1="390.70" y1="514.92" x2="390.70" y2="512.95" stroke="#161616" stroke-width="1.0"/>
<line x1="389.40" y1="512.95" x2="392.00" y2="512.95" stroke="#161616" stroke-width="1.3"/>
<rect x="398.40" y="550.36" width="5.30" height="30.84" fill="#b0b0b0" stroke="#9c9c9c" stroke-width="0.5"/>
<line x1="400.90" y1="550.36" x2="400.90" y2="549.31" stroke="#161616" stroke-width="1.0"/>
<line x1="399.60" y1="549.31" x2="402.20" y2="549.31" stroke="#161616" stroke-width="1.3"/>
<line x1="414.60" y1="553.11" x2="414.60" y2="554.16" stroke="#222" stroke-width="0.7"/>
<line x1="413.40" y1="553.11" x2="415.80" y2="553.11" stroke="#222" stroke-width="0.7"/>
<line x1="413.40" y1="554.16" x2="415.80" y2="554.16" stroke="#222" stroke-width="0.7"/>
<rect x="406.70" y="507.70" width="5.40" height="73.50" fill="#161616"/>
<line x1="409.40" y1="507.70" x2="409.40" y2="505.34" stroke="#161616" stroke-width="1.0"/>
<line x1="408.10" y1="505.34" x2="410.70" y2="505.34" stroke="#161616" stroke-width="1.3"/>
<rect x="417.10" y="548.91" width="5.30" height="32.29" fill="#b0b0b0" stroke="#9c9c9c" stroke-width="0.5"/>
<line x1="419.60" y1="548.91" x2="419.60" y2="548.26" stroke="#161616" stroke-width="1.0"/>
<line x1="418.30" y1="548.26" x2="420.90" y2="548.26" stroke="#161616" stroke-width="1.3"/>
<line x1="431.20" y1="555.61" x2="434.90" y2="555.61" stroke="#111" stroke-width="1.2"/>
<rect x="425.50" y="507.04" width="5.40" height="74.16" fill="#161616"/>
<line x1="428.20" y1="507.04" x2="428.20" y2="505.08" stroke="#161616" stroke-width="1.0"/>
<line x1="426.90" y1="505.08" x2="429.50" y2="505.08" stroke="#161616" stroke-width="1.3"/>
<rect x="435.90" y="547.99" width="5.30" height="33.21" fill="#b0b0b0" stroke="#9c9c9c" stroke-width="0.5"/>
<line x1="438.40" y1="547.99" x2="438.40" y2="547.34" stroke="#161616" stroke-width="1.0"/>
<line x1="437.10" y1="547.34" x2="439.70" y2="547.34" stroke="#161616" stroke-width="1.3"/>
<line x1="452.10" y1="554.43" x2="452.10" y2="555.48" stroke="#222" stroke-width="0.7"/>
<line x1="450.90" y1="554.43" x2="453.30" y2="554.43" stroke="#222" stroke-width="0.7"/>
<line x1="450.90" y1="555.48" x2="453.30" y2="555.48" stroke="#222" stroke-width="0.7"/>
<rect x="444.20" y="508.75" width="5.40" height="72.45" fill="#161616"/>
<line x1="446.90" y1="508.75" x2="446.90" y2="507.04" stroke="#161616" stroke-width="1.0"/>
<line x1="445.60" y1="507.04" x2="448.20" y2="507.04" stroke="#161616" stroke-width="1.3"/>
<rect x="454.60" y="547.08" width="5.30" height="34.12" fill="#b0b0b0" stroke="#9c9c9c" stroke-width="0.5"/>
<line x1="457.10" y1="547.08" x2="457.10" y2="546.55" stroke="#161616" stroke-width="1.0"/>
<line x1="455.80" y1="546.55" x2="458.40" y2="546.55" stroke="#161616" stroke-width="1.3"/>
<line x1="468.70" y1="556.26" x2="472.40" y2="556.26" stroke="#111" stroke-width="1.2"/>
<rect x="463.00" y="508.23" width="5.40" height="72.98" fill="#161616"/>
<line x1="465.70" y1="508.23" x2="465.70" y2="507.18" stroke="#161616" stroke-width="1.0"/>
<line x1="464.40" y1="507.18" x2="467.00" y2="507.18" stroke="#161616" stroke-width="1.3"/>
<rect x="473.40" y="546.42" width="5.30" height="34.78" fill="#b0b0b0" stroke="#9c9c9c" stroke-width="0.5"/>
<line x1="475.90" y1="546.42" x2="475.90" y2="544.71" stroke="#161616" stroke-width="1.0"/>
<line x1="474.60" y1="544.71" x2="477.20" y2="544.71" stroke="#161616" stroke-width="1.3"/>
<line x1="386.20" y1="488.70" x2="386.20" y2="581.70" stroke="#4a4a4a" stroke-width="1.1"/>
<line x1="383.90" y1="581.20" x2="386.20" y2="581.20" stroke="#4a4a4a" stroke-width="1"/>
<text x="382.60" y="584.50" font-size="8.8" text-anchor="end" fill="#1c1c1c">0</text>
<line x1="383.90" y1="554.95" x2="386.20" y2="554.95" stroke="#4a4a4a" stroke-width="1"/>
<text x="382.60" y="558.25" font-size="8.8" text-anchor="end" fill="#1c1c1c">20</text>
<line x1="383.90" y1="528.70" x2="386.20" y2="528.70" stroke="#4a4a4a" stroke-width="1"/>
<text x="382.60" y="532.00" font-size="8.8" text-anchor="end" fill="#1c1c1c">40</text>
<line x1="383.90" y1="502.45" x2="386.20" y2="502.45" stroke="#4a4a4a" stroke-width="1"/>
<text x="382.60" y="505.75" font-size="8.8" text-anchor="end" fill="#1c1c1c">60</text>
<line x1="383.90" y1="581.20" x2="480.00" y2="581.20" stroke="#2a2a2a" stroke-width="1.4"/>
<line x1="405.00" y1="581.20" x2="405.00" y2="583.70" stroke="#4a4a4a" stroke-width="1"/>
<line x1="423.80" y1="581.20" x2="423.80" y2="583.70" stroke="#4a4a4a" stroke-width="1"/>
<line x1="442.50" y1="581.20" x2="442.50" y2="583.70" stroke="#4a4a4a" stroke-width="1"/>
<line x1="461.30" y1="581.20" x2="461.30" y2="583.70" stroke="#4a4a4a" stroke-width="1"/>
<line x1="480.00" y1="581.20" x2="480.00" y2="583.70" stroke="#4a4a4a" stroke-width="1"/>
<text x="426.60" y="477.50" font-size="8.8" text-anchor="middle" fill="#1c1c1c">NCI-H520</text>
<text x="409.40" y="498.00" font-size="6.5" text-anchor="middle" fill="#222">**</text>
<text x="428.20" y="498.00" font-size="6.5" text-anchor="middle" fill="#222">**</text>
<text x="446.90" y="498.00" font-size="6.5" text-anchor="middle" fill="#222">*</text>
<text x="465.70" y="498.00" font-size="6.5" text-anchor="middle" fill="#222">**</text>
<text x="397.00" y="590.10" font-size="8.6" text-anchor="end" transform="rotate(-90 397.00 590.10)" fill="#1c1c1c">Vehicle</text>
<text x="411.30" y="596.10" font-size="8.8" text-anchor="middle" fill="#1c1c1c">0.5</text>
<text x="429.50" y="596.10" font-size="8.8" text-anchor="middle" fill="#1c1c1c">1</text>
<text x="449.60" y="596.10" font-size="8.8" text-anchor="middle" fill="#1c1c1c">0.5</text>
<text x="466.00" y="596.10" font-size="8.8" text-anchor="middle" fill="#1c1c1c">1</text>
<line x1="402.50" y1="600.10" x2="436.00" y2="600.10" stroke="#333" stroke-width="0.9"/>
<line x1="441.00" y1="600.10" x2="477.50" y2="600.10" stroke="#333" stroke-width="0.9"/>
<text x="418.80" y="609.80" font-size="8.8" text-anchor="middle" fill="#1c1c1c">BGJ398</text>
<text x="458.80" y="609.80" font-size="8.8" text-anchor="middle" fill="#1c1c1c">AZD4547</text>
<text x="483.50" y="596.10" font-size="8.9" fill="#1c1c1c">(µmol/L)</text>
<rect x="46.70" y="680.31" width="5.10" height="63.89" fill="#fff" stroke="#555" stroke-width="0.6"/>
<line x1="49.20" y1="679.91" x2="49.20" y2="680.31" stroke="#222" stroke-width="0.7"/>
<line x1="48.00" y1="679.91" x2="50.40" y2="679.91" stroke="#222" stroke-width="0.7"/>
<rect x="41.30" y="699.82" width="5.40" height="44.38" fill="#161616"/>
<line x1="44.00" y1="699.82" x2="44.00" y2="697.80" stroke="#161616" stroke-width="1.0"/>
<line x1="42.70" y1="697.80" x2="45.30" y2="697.80" stroke="#161616" stroke-width="1.3"/>
<rect x="51.70" y="717.30" width="5.30" height="26.90" fill="#b0b0b0" stroke="#9c9c9c" stroke-width="0.5"/>
<line x1="54.20" y1="717.30" x2="54.20" y2="712.59" stroke="#161616" stroke-width="1.0"/>
<line x1="52.90" y1="712.59" x2="55.50" y2="712.59" stroke="#161616" stroke-width="1.3"/>
<rect x="65.40" y="728.06" width="5.10" height="16.14" fill="#fff" stroke="#555" stroke-width="0.6"/>
<line x1="67.90" y1="718.91" x2="67.90" y2="728.06" stroke="#222" stroke-width="0.7"/>
<line x1="66.70" y1="718.91" x2="69.10" y2="718.91" stroke="#222" stroke-width="0.7"/>
<rect x="60.00" y="664.85" width="5.40" height="79.36" fill="#161616"/>
<line x1="62.70" y1="664.85" x2="62.70" y2="663.50" stroke="#161616" stroke-width="1.0"/>
<line x1="61.40" y1="663.50" x2="64.00" y2="663.50" stroke="#161616" stroke-width="1.3"/>
<rect x="70.40" y="703.85" width="5.30" height="40.35" fill="#b0b0b0" stroke="#9c9c9c" stroke-width="0.5"/>
<line x1="72.90" y1="703.85" x2="72.90" y2="694.44" stroke="#161616" stroke-width="1.0"/>
<line x1="71.60" y1="694.44" x2="74.20" y2="694.44" stroke="#161616" stroke-width="1.3"/>
<rect x="84.20" y="730.08" width="5.10" height="14.12" fill="#fff" stroke="#555" stroke-width="0.6"/>
<line x1="86.70" y1="723.89" x2="86.70" y2="730.08" stroke="#222" stroke-width="0.7"/>
<line x1="85.50" y1="723.89" x2="87.90" y2="723.89" stroke="#222" stroke-width="0.7"/>
<rect x="78.80" y="664.85" width="5.40" height="79.36" fill="#161616"/>
<line x1="81.50" y1="664.85" x2="81.50" y2="663.50" stroke="#161616" stroke-width="1.0"/>
<line x1="80.20" y1="663.50" x2="82.80" y2="663.50" stroke="#161616" stroke-width="1.3"/>
<rect x="89.20" y="701.83" width="5.30" height="42.37" fill="#b0b0b0" stroke="#9c9c9c" stroke-width="0.5"/>
<line x1="91.70" y1="701.83" x2="91.70" y2="692.42" stroke="#161616" stroke-width="1.0"/>
<line x1="90.40" y1="692.42" x2="93.00" y2="692.42" stroke="#161616" stroke-width="1.3"/>
<rect x="102.90" y="726.04" width="5.10" height="18.16" fill="#fff" stroke="#555" stroke-width="0.6"/>
<line x1="105.40" y1="715.82" x2="105.40" y2="726.04" stroke="#222" stroke-width="0.7"/>
<line x1="104.20" y1="715.82" x2="106.60" y2="715.82" stroke="#222" stroke-width="0.7"/>
<rect x="97.50" y="663.90" width="5.40" height="80.30" fill="#161616"/>
<line x1="100.20" y1="663.90" x2="100.20" y2="662.83" stroke="#161616" stroke-width="1.0"/>
<line x1="98.90" y1="662.83" x2="101.50" y2="662.83" stroke="#161616" stroke-width="1.3"/>
<rect x="107.90" y="706.54" width="5.30" height="37.66" fill="#b0b0b0" stroke="#9c9c9c" stroke-width="0.5"/>
<line x1="110.40" y1="706.54" x2="110.40" y2="694.84" stroke="#161616" stroke-width="1.0"/>
<line x1="109.10" y1="694.84" x2="111.70" y2="694.84" stroke="#161616" stroke-width="1.3"/>
<rect x="121.70" y="732.10" width="5.10" height="12.11" fill="#fff" stroke="#555" stroke-width="0.6"/>
<line x1="124.20" y1="723.89" x2="124.20" y2="732.10" stroke="#222" stroke-width="0.7"/>
<line x1="123.00" y1="723.89" x2="125.40" y2="723.89" stroke="#222" stroke-width="0.7"/>
<rect x="116.30" y="669.55" width="5.40" height="74.65" fill="#161616"/>
<line x1="119.00" y1="669.55" x2="119.00" y2="668.48" stroke="#161616" stroke-width="1.0"/>
<line x1="117.70" y1="668.48" x2="120.30" y2="668.48" stroke="#161616" stroke-width="1.3"/>
<rect x="126.70" y="695.11" width="5.30" height="49.09" fill="#b0b0b0" stroke="#9c9c9c" stroke-width="0.5"/>
<line x1="129.20" y1="695.11" x2="129.20" y2="680.72" stroke="#161616" stroke-width="1.0"/>
<line x1="127.90" y1="680.72" x2="130.50" y2="680.72" stroke="#161616" stroke-width="1.3"/>
<line x1="40.50" y1="650.00" x2="40.50" y2="744.70" stroke="#4a4a4a" stroke-width="1.1"/>
<line x1="38.20" y1="744.20" x2="40.50" y2="744.20" stroke="#4a4a4a" stroke-width="1"/>
<text x="36.90" y="747.50" font-size="8.8" text-anchor="end" fill="#1c1c1c">0</text>
<line x1="38.20" y1="717.30" x2="40.50" y2="717.30" stroke="#4a4a4a" stroke-width="1"/>
<text x="36.90" y="720.60" font-size="8.8" text-anchor="end" fill="#1c1c1c">20</text>
<line x1="38.20" y1="690.40" x2="40.50" y2="690.40" stroke="#4a4a4a" stroke-width="1"/>
<text x="36.90" y="693.70" font-size="8.8" text-anchor="end" fill="#1c1c1c">40</text>
<line x1="38.20" y1="663.50" x2="40.50" y2="663.50" stroke="#4a4a4a" stroke-width="1"/>
<text x="36.90" y="666.80" font-size="8.8" text-anchor="end" fill="#1c1c1c">60</text>
<line x1="38.20" y1="744.20" x2="133.75" y2="744.20" stroke="#2a2a2a" stroke-width="1.4"/>
<line x1="58.30" y1="744.20" x2="58.30" y2="746.70" stroke="#4a4a4a" stroke-width="1"/>
<line x1="77.10" y1="744.20" x2="77.10" y2="746.70" stroke="#4a4a4a" stroke-width="1"/>
<line x1="95.80" y1="744.20" x2="95.80" y2="746.70" stroke="#4a4a4a" stroke-width="1"/>
<line x1="114.60" y1="744.20" x2="114.60" y2="746.70" stroke="#4a4a4a" stroke-width="1"/>
<line x1="133.75" y1="744.20" x2="133.75" y2="746.70" stroke="#4a4a4a" stroke-width="1"/>
<text x="87.30" y="640.00" font-size="8.8" text-anchor="middle" fill="#1c1c1c">KATOIII</text>
<text x="62.70" y="660.00" font-size="6.5" text-anchor="middle" fill="#222">**</text>
<text x="81.50" y="660.00" font-size="6.5" text-anchor="middle" fill="#222">**</text>
<text x="100.20" y="660.00" font-size="6.5" text-anchor="middle" fill="#222">**</text>
<text x="119.00" y="660.00" font-size="6.5" text-anchor="middle" fill="#222">**</text>
<text x="53.20" y="749.40" font-size="8.6" text-anchor="end" transform="rotate(-90 53.20 749.40)" fill="#1c1c1c">Vehicle</text>
<text x="70.40" y="756.30" font-size="8.8" text-anchor="middle" textLength="16.8" lengthAdjust="spacingAndGlyphs" fill="#1c1c1c">0.05</text>
<text x="88.20" y="756.30" font-size="8.8" text-anchor="middle" fill="#1c1c1c">0.1</text>
<text x="108.80" y="756.30" font-size="8.8" text-anchor="middle" textLength="16.8" lengthAdjust="spacingAndGlyphs" fill="#1c1c1c">0.05</text>
<text x="127.50" y="756.30" font-size="8.8" text-anchor="middle" fill="#1c1c1c">0.1</text>
<line x1="60.00" y1="758.60" x2="95.00" y2="758.60" stroke="#333" stroke-width="0.9"/>
<line x1="98.75" y1="758.60" x2="133.75" y2="758.60" stroke="#333" stroke-width="0.9"/>
<text x="78.20" y="768.80" font-size="8.8" text-anchor="middle" fill="#1c1c1c">BGJ398</text>
<text x="117.40" y="768.80" font-size="8.8" text-anchor="middle" fill="#1c1c1c">AZD4547</text>
<line x1="167.90" y1="719.50" x2="167.90" y2="722.17" stroke="#222" stroke-width="0.7"/>
<line x1="166.70" y1="719.50" x2="169.10" y2="719.50" stroke="#222" stroke-width="0.7"/>
<line x1="166.70" y1="722.17" x2="169.10" y2="722.17" stroke="#222" stroke-width="0.7"/>
<rect x="160.00" y="677.05" width="5.40" height="67.15" fill="#161616"/>
<line x1="162.70" y1="677.05" x2="162.70" y2="676.65" stroke="#161616" stroke-width="1.0"/>
<line x1="161.40" y1="676.65" x2="164.00" y2="676.65" stroke="#161616" stroke-width="1.3"/>
<rect x="170.40" y="699.74" width="5.30" height="44.46" fill="#b0b0b0" stroke="#9c9c9c" stroke-width="0.5"/>
<line x1="172.90" y1="699.74" x2="172.90" y2="697.74" stroke="#161616" stroke-width="1.0"/>
<line x1="171.60" y1="697.74" x2="174.20" y2="697.74" stroke="#161616" stroke-width="1.3"/>
<line x1="186.70" y1="733.79" x2="186.70" y2="734.59" stroke="#222" stroke-width="0.7"/>
<line x1="185.50" y1="733.79" x2="187.90" y2="733.79" stroke="#222" stroke-width="0.7"/>
<line x1="185.50" y1="734.59" x2="187.90" y2="734.59" stroke="#222" stroke-width="0.7"/>
<rect x="178.80" y="660.10" width="5.40" height="84.11" fill="#161616"/>
<line x1="181.50" y1="660.10" x2="181.50" y2="659.69" stroke="#161616" stroke-width="1.0"/>
<line x1="180.20" y1="659.69" x2="182.80" y2="659.69" stroke="#161616" stroke-width="1.3"/>
<rect x="189.20" y="703.88" width="5.30" height="40.32" fill="#b0b0b0" stroke="#9c9c9c" stroke-width="0.5"/>
<line x1="191.70" y1="703.88" x2="191.70" y2="701.21" stroke="#161616" stroke-width="1.0"/>
<line x1="190.40" y1="701.21" x2="193.00" y2="701.21" stroke="#161616" stroke-width="1.3"/>
<line x1="205.00" y1="733.52" x2="205.00" y2="734.86" stroke="#222" stroke-width="0.7"/>
<line x1="203.80" y1="733.52" x2="206.20" y2="733.52" stroke="#222" stroke-width="0.7"/>
<line x1="203.80" y1="734.86" x2="206.20" y2="734.86" stroke="#222" stroke-width="0.7"/>
<rect x="197.10" y="660.50" width="5.40" height="83.70" fill="#161616"/>
<line x1="199.80" y1="660.50" x2="199.80" y2="660.10" stroke="#161616" stroke-width="1.0"/>
<line x1="198.50" y1="660.10" x2="201.10" y2="660.10" stroke="#161616" stroke-width="1.3"/>
<rect x="207.50" y="703.48" width="5.30" height="40.72" fill="#b0b0b0" stroke="#9c9c9c" stroke-width="0.5"/>
<line x1="210.00" y1="703.48" x2="210.00" y2="701.08" stroke="#161616" stroke-width="1.0"/>
<line x1="208.70" y1="701.08" x2="211.30" y2="701.08" stroke="#161616" stroke-width="1.3"/>
<line x1="224.20" y1="731.92" x2="224.20" y2="735.12" stroke="#222" stroke-width="0.7"/>
<line x1="223.00" y1="731.92" x2="225.40" y2="731.92" stroke="#222" stroke-width="0.7"/>
<line x1="223.00" y1="735.12" x2="225.40" y2="735.12" stroke="#222" stroke-width="0.7"/>
<rect x="216.30" y="660.50" width="5.40" height="83.70" fill="#161616"/>
<line x1="219.00" y1="660.50" x2="219.00" y2="657.56" stroke="#161616" stroke-width="1.0"/>
<line x1="217.70" y1="657.56" x2="220.30" y2="657.56" stroke="#161616" stroke-width="1.3"/>
<rect x="226.70" y="703.22" width="5.30" height="40.98" fill="#b0b0b0" stroke="#9c9c9c" stroke-width="0.5"/>
<line x1="229.20" y1="703.22" x2="229.20" y2="699.74" stroke="#161616" stroke-width="1.0"/>
<line x1="227.90" y1="699.74" x2="230.50" y2="699.74" stroke="#161616" stroke-width="1.3"/>
<line x1="242.90" y1="731.12" x2="242.90" y2="731.92" stroke="#222" stroke-width="0.7"/>
<line x1="241.70" y1="731.12" x2="244.10" y2="731.12" stroke="#222" stroke-width="0.7"/>
<line x1="241.70" y1="731.92" x2="244.10" y2="731.92" stroke="#222" stroke-width="0.7"/>
<rect x="235.00" y="660.50" width="5.40" height="83.70" fill="#161616"/>
<line x1="237.70" y1="660.50" x2="237.70" y2="658.76" stroke="#161616" stroke-width="1.0"/>
<line x1="236.40" y1="658.76" x2="239.00" y2="658.76" stroke="#161616" stroke-width="1.3"/>
<rect x="245.40" y="705.49" width="5.30" height="38.72" fill="#b0b0b0" stroke="#9c9c9c" stroke-width="0.5"/>
<line x1="247.90" y1="705.49" x2="247.90" y2="703.22" stroke="#161616" stroke-width="1.0"/>
<line x1="246.60" y1="703.22" x2="249.20" y2="703.22" stroke="#161616" stroke-width="1.3"/>
<line x1="158.00" y1="650.00" x2="158.00" y2="744.70" stroke="#4a4a4a" stroke-width="1.1"/>
<line x1="155.70" y1="744.20" x2="158.00" y2="744.20" stroke="#4a4a4a" stroke-width="1"/>
<text x="154.40" y="747.50" font-size="8.8" text-anchor="end" fill="#1c1c1c">0</text>
<line x1="155.70" y1="717.50" x2="158.00" y2="717.50" stroke="#4a4a4a" stroke-width="1"/>
<text x="154.40" y="720.80" font-size="8.8" text-anchor="end" fill="#1c1c1c">20</text>
<line x1="155.70" y1="690.80" x2="158.00" y2="690.80" stroke="#4a4a4a" stroke-width="1"/>
<text x="154.40" y="694.10" font-size="8.8" text-anchor="end" fill="#1c1c1c">40</text>
<line x1="155.70" y1="664.10" x2="158.00" y2="664.10" stroke="#4a4a4a" stroke-width="1"/>
<text x="154.40" y="667.40" font-size="8.8" text-anchor="end" fill="#1c1c1c">60</text>
<line x1="155.70" y1="744.20" x2="252.00" y2="744.20" stroke="#2a2a2a" stroke-width="1.4"/>
<line x1="177.10" y1="744.20" x2="177.10" y2="746.70" stroke="#4a4a4a" stroke-width="1"/>
<line x1="195.40" y1="744.20" x2="195.40" y2="746.70" stroke="#4a4a4a" stroke-width="1"/>
<line x1="214.60" y1="744.20" x2="214.60" y2="746.70" stroke="#4a4a4a" stroke-width="1"/>
<line x1="233.30" y1="744.20" x2="233.30" y2="746.70" stroke="#4a4a4a" stroke-width="1"/>
<line x1="252.00" y1="744.20" x2="252.00" y2="746.70" stroke="#4a4a4a" stroke-width="1"/>
<text x="200.40" y="640.00" font-size="8.8" text-anchor="middle" fill="#1c1c1c">NCI-H716</text>
<text x="181.50" y="655.80" font-size="6.5" text-anchor="middle" fill="#222">**</text>
<text x="199.80" y="655.80" font-size="6.5" text-anchor="middle" fill="#222">**</text>
<text x="219.00" y="655.80" font-size="6.5" text-anchor="middle" fill="#222">**</text>
<text x="237.70" y="655.80" font-size="6.5" text-anchor="middle" fill="#222">**</text>
<text x="171.80" y="749.40" font-size="8.6" text-anchor="end" transform="rotate(-90 171.80 749.40)" fill="#1c1c1c">Vehicle</text>
<text x="186.30" y="756.30" font-size="8.8" text-anchor="middle" textLength="16.6" lengthAdjust="spacingAndGlyphs" fill="#1c1c1c">0.05</text>
<text x="204.20" y="756.30" font-size="8.8" text-anchor="middle" fill="#1c1c1c">0.1</text>
<text x="224.60" y="756.30" font-size="8.8" text-anchor="middle" textLength="16.6" lengthAdjust="spacingAndGlyphs" fill="#1c1c1c">0.05</text>
<text x="243.20" y="756.30" font-size="8.8" text-anchor="middle" fill="#1c1c1c">0.1</text>
<line x1="176.25" y1="758.60" x2="210.50" y2="758.60" stroke="#333" stroke-width="0.9"/>
<line x1="214.50" y1="758.60" x2="252.50" y2="758.60" stroke="#333" stroke-width="0.9"/>
<text x="192.90" y="768.80" font-size="8.8" text-anchor="middle" fill="#1c1c1c">BGJ398</text>
<text x="235.60" y="768.80" font-size="8.8" text-anchor="middle" fill="#1c1c1c">AZD4547</text>
<rect x="277.90" y="690.40" width="5.10" height="53.80" fill="#fff" stroke="#555" stroke-width="0.6"/>
<line x1="280.40" y1="690.00" x2="280.40" y2="690.40" stroke="#222" stroke-width="0.7"/>
<line x1="279.20" y1="690.00" x2="281.60" y2="690.00" stroke="#222" stroke-width="0.7"/>
<rect x="272.50" y="683.46" width="5.40" height="60.74" fill="#161616"/>
<line x1="275.20" y1="683.46" x2="275.20" y2="679.05" stroke="#161616" stroke-width="1.0"/>
<line x1="273.90" y1="679.05" x2="276.50" y2="679.05" stroke="#161616" stroke-width="1.3"/>
<rect x="282.90" y="722.84" width="5.30" height="21.36" fill="#b0b0b0" stroke="#9c9c9c" stroke-width="0.5"/>
<line x1="285.40" y1="722.84" x2="285.40" y2="719.90" stroke="#161616" stroke-width="1.0"/>
<line x1="284.10" y1="719.90" x2="286.70" y2="719.90" stroke="#161616" stroke-width="1.3"/>
<line x1="299.20" y1="728.38" x2="299.20" y2="729.31" stroke="#222" stroke-width="0.7"/>
<line x1="298.00" y1="728.38" x2="300.40" y2="728.38" stroke="#222" stroke-width="0.7"/>
<line x1="298.00" y1="729.31" x2="300.40" y2="729.31" stroke="#222" stroke-width="0.7"/>
<rect x="291.30" y="656.49" width="5.40" height="87.71" fill="#161616"/>
<line x1="294.00" y1="656.49" x2="294.00" y2="654.75" stroke="#161616" stroke-width="1.0"/>
<line x1="292.70" y1="654.75" x2="295.30" y2="654.75" stroke="#161616" stroke-width="1.3"/>
<rect x="301.70" y="712.16" width="5.30" height="32.04" fill="#b0b0b0" stroke="#9c9c9c" stroke-width="0.5"/>
<line x1="304.20" y1="712.16" x2="304.20" y2="711.76" stroke="#161616" stroke-width="1.0"/>
<line x1="302.90" y1="711.76" x2="305.50" y2="711.76" stroke="#161616" stroke-width="1.3"/>
<line x1="317.90" y1="728.38" x2="317.90" y2="729.31" stroke="#222" stroke-width="0.7"/>
<line x1="316.70" y1="728.38" x2="319.10" y2="728.38" stroke="#222" stroke-width="0.7"/>
<line x1="316.70" y1="729.31" x2="319.10" y2="729.31" stroke="#222" stroke-width="0.7"/>
<rect x="310.00" y="655.69" width="5.40" height="88.51" fill="#161616"/>
<line x1="312.70" y1="655.69" x2="312.70" y2="652.75" stroke="#161616" stroke-width="1.0"/>
<line x1="311.40" y1="652.75" x2="314.00" y2="652.75" stroke="#161616" stroke-width="1.3"/>
<rect x="320.40" y="712.83" width="5.30" height="31.37" fill="#b0b0b0" stroke="#9c9c9c" stroke-width="0.5"/>
<line x1="322.90" y1="712.83" x2="322.90" y2="710.29" stroke="#161616" stroke-width="1.0"/>
<line x1="321.60" y1="710.29" x2="324.20" y2="710.29" stroke="#161616" stroke-width="1.3"/>
<line x1="336.70" y1="724.38" x2="336.70" y2="725.31" stroke="#222" stroke-width="0.7"/>
<line x1="335.50" y1="724.38" x2="337.90" y2="724.38" stroke="#222" stroke-width="0.7"/>
<line x1="335.50" y1="725.31" x2="337.90" y2="725.31" stroke="#222" stroke-width="0.7"/>
<rect x="328.80" y="655.69" width="5.40" height="88.51" fill="#161616"/>
<line x1="331.50" y1="655.69" x2="331.50" y2="652.75" stroke="#161616" stroke-width="1.0"/>
<line x1="330.20" y1="652.75" x2="332.80" y2="652.75" stroke="#161616" stroke-width="1.3"/>
<rect x="339.20" y="716.83" width="5.30" height="27.37" fill="#b0b0b0" stroke="#9c9c9c" stroke-width="0.5"/>
<line x1="341.70" y1="716.83" x2="341.70" y2="713.09" stroke="#161616" stroke-width="1.0"/>
<line x1="340.40" y1="713.09" x2="343.00" y2="713.09" stroke="#161616" stroke-width="1.3"/>
<line x1="355.40" y1="728.38" x2="355.40" y2="729.31" stroke="#222" stroke-width="0.7"/>
<line x1="354.20" y1="728.38" x2="356.60" y2="728.38" stroke="#222" stroke-width="0.7"/>
<line x1="354.20" y1="729.31" x2="356.60" y2="729.31" stroke="#222" stroke-width="0.7"/>
<rect x="347.50" y="654.76" width="5.40" height="89.44" fill="#161616"/>
<line x1="350.20" y1="654.76" x2="350.20" y2="651.55" stroke="#161616" stroke-width="1.0"/>
<line x1="348.90" y1="651.55" x2="351.50" y2="651.55" stroke="#161616" stroke-width="1.3"/>
<rect x="357.90" y="713.50" width="5.30" height="30.71" fill="#b0b0b0" stroke="#9c9c9c" stroke-width="0.5"/>
<line x1="360.40" y1="713.50" x2="360.40" y2="711.23" stroke="#161616" stroke-width="1.0"/>
<line x1="359.10" y1="711.23" x2="361.70" y2="711.23" stroke="#161616" stroke-width="1.3"/>
<line x1="270.50" y1="650.00" x2="270.50" y2="744.70" stroke="#4a4a4a" stroke-width="1.1"/>
<line x1="268.20" y1="744.20" x2="270.50" y2="744.20" stroke="#4a4a4a" stroke-width="1"/>
<text x="266.90" y="747.50" font-size="8.8" text-anchor="end" fill="#1c1c1c">0</text>
<line x1="268.20" y1="717.50" x2="270.50" y2="717.50" stroke="#4a4a4a" stroke-width="1"/>
<text x="266.90" y="720.80" font-size="8.8" text-anchor="end" fill="#1c1c1c">20</text>
<line x1="268.20" y1="690.80" x2="270.50" y2="690.80" stroke="#4a4a4a" stroke-width="1"/>
<text x="266.90" y="694.10" font-size="8.8" text-anchor="end" fill="#1c1c1c">40</text>
<line x1="268.20" y1="664.10" x2="270.50" y2="664.10" stroke="#4a4a4a" stroke-width="1"/>
<text x="266.90" y="667.40" font-size="8.8" text-anchor="end" fill="#1c1c1c">60</text>
<line x1="268.20" y1="744.20" x2="365.00" y2="744.20" stroke="#2a2a2a" stroke-width="1.4"/>
<line x1="289.60" y1="744.20" x2="289.60" y2="746.70" stroke="#4a4a4a" stroke-width="1"/>
<line x1="308.30" y1="744.20" x2="308.30" y2="746.70" stroke="#4a4a4a" stroke-width="1"/>
<line x1="327.10" y1="744.20" x2="327.10" y2="746.70" stroke="#4a4a4a" stroke-width="1"/>
<line x1="345.80" y1="744.20" x2="345.80" y2="746.70" stroke="#4a4a4a" stroke-width="1"/>
<line x1="365.00" y1="744.20" x2="365.00" y2="746.70" stroke="#4a4a4a" stroke-width="1"/>
<text x="312.30" y="639.70" font-size="8.8" text-anchor="middle" fill="#1c1c1c">UMUC14</text>
<text x="294.00" y="651.30" font-size="6.5" text-anchor="middle" fill="#222">**</text>
<text x="312.70" y="651.30" font-size="6.5" text-anchor="middle" fill="#222">**</text>
<text x="331.50" y="651.30" font-size="6.5" text-anchor="middle" fill="#222">**</text>
<text x="350.20" y="651.30" font-size="6.5" text-anchor="middle" fill="#222">**</text>
<text x="285.00" y="749.40" font-size="8.6" text-anchor="end" transform="rotate(-90 285.00 749.40)" fill="#1c1c1c">Vehicle</text>
<text x="299.70" y="756.30" font-size="8.8" text-anchor="middle" textLength="16.8" lengthAdjust="spacingAndGlyphs" fill="#1c1c1c">0.05</text>
<text x="318.00" y="756.30" font-size="8.8" text-anchor="middle" fill="#1c1c1c">0.1</text>
<text x="342.90" y="756.30" font-size="8.8" text-anchor="middle" textLength="16.8" lengthAdjust="spacingAndGlyphs" fill="#1c1c1c">0.05</text>
<text x="361.70" y="756.30" font-size="8.8" text-anchor="middle" fill="#1c1c1c">0.1</text>
<line x1="289.50" y1="758.60" x2="324.50" y2="758.60" stroke="#333" stroke-width="0.9"/>
<line x1="330.50" y1="758.60" x2="369.50" y2="758.60" stroke="#333" stroke-width="0.9"/>
<text x="307.30" y="768.80" font-size="8.8" text-anchor="middle" fill="#1c1c1c">BGJ398</text>
<text x="350.30" y="768.80" font-size="8.8" text-anchor="middle" fill="#1c1c1c">AZD4547</text>
<line x1="395.20" y1="716.10" x2="398.90" y2="716.10" stroke="#111" stroke-width="1.2"/>
<rect x="389.50" y="690.80" width="5.40" height="52.80" fill="#161616"/>
<line x1="392.20" y1="690.80" x2="392.20" y2="690.36" stroke="#161616" stroke-width="1.0"/>
<line x1="390.90" y1="690.36" x2="393.50" y2="690.36" stroke="#161616" stroke-width="1.3"/>
<rect x="399.90" y="712.80" width="5.30" height="30.80" fill="#b0b0b0" stroke="#9c9c9c" stroke-width="0.5"/>
<line x1="402.40" y1="712.80" x2="402.40" y2="711.92" stroke="#161616" stroke-width="1.0"/>
<line x1="401.10" y1="711.92" x2="403.70" y2="711.92" stroke="#161616" stroke-width="1.3"/>
<line x1="413.70" y1="737.00" x2="417.40" y2="737.00" stroke="#111" stroke-width="1.2"/>
<rect x="408.00" y="662.75" width="5.40" height="80.85" fill="#161616"/>
<line x1="410.70" y1="662.75" x2="410.70" y2="662.31" stroke="#161616" stroke-width="1.0"/>
<line x1="409.40" y1="662.31" x2="412.00" y2="662.31" stroke="#161616" stroke-width="1.3"/>
<rect x="418.40" y="720.50" width="5.30" height="23.10" fill="#b0b0b0" stroke="#9c9c9c" stroke-width="0.5"/>
<line x1="420.90" y1="720.50" x2="420.90" y2="720.17" stroke="#161616" stroke-width="1.0"/>
<line x1="419.60" y1="720.17" x2="422.20" y2="720.17" stroke="#161616" stroke-width="1.3"/>
<line x1="434.70" y1="737.77" x2="434.70" y2="738.43" stroke="#222" stroke-width="0.7"/>
<line x1="433.50" y1="737.77" x2="435.90" y2="737.77" stroke="#222" stroke-width="0.7"/>
<line x1="433.50" y1="738.43" x2="435.90" y2="738.43" stroke="#222" stroke-width="0.7"/>
<rect x="426.80" y="658.90" width="5.40" height="84.70" fill="#161616"/>
<line x1="429.50" y1="658.90" x2="429.50" y2="655.16" stroke="#161616" stroke-width="1.0"/>
<line x1="428.20" y1="655.16" x2="430.80" y2="655.16" stroke="#161616" stroke-width="1.3"/>
<rect x="437.20" y="723.25" width="5.30" height="20.35" fill="#b0b0b0" stroke="#9c9c9c" stroke-width="0.5"/>
<line x1="439.70" y1="723.25" x2="439.70" y2="720.72" stroke="#161616" stroke-width="1.0"/>
<line x1="438.40" y1="720.72" x2="441.00" y2="720.72" stroke="#161616" stroke-width="1.3"/>
<line x1="451.20" y1="735.90" x2="454.90" y2="735.90" stroke="#111" stroke-width="1.2"/>
<rect x="445.50" y="662.75" width="5.40" height="80.85" fill="#161616"/>
<line x1="448.20" y1="662.75" x2="448.20" y2="662.42" stroke="#161616" stroke-width="1.0"/>
<line x1="446.90" y1="662.42" x2="449.50" y2="662.42" stroke="#161616" stroke-width="1.3"/>
<rect x="455.90" y="721.60" width="5.30" height="22.00" fill="#b0b0b0" stroke="#9c9c9c" stroke-width="0.5"/>
<line x1="458.40" y1="721.60" x2="458.40" y2="721.27" stroke="#161616" stroke-width="1.0"/>
<line x1="457.10" y1="721.27" x2="459.70" y2="721.27" stroke="#161616" stroke-width="1.3"/>
<line x1="470.20" y1="737.00" x2="473.90" y2="737.00" stroke="#111" stroke-width="1.2"/>
<rect x="464.50" y="659.45" width="5.40" height="84.15" fill="#161616"/>
<line x1="467.20" y1="659.45" x2="467.20" y2="657.25" stroke="#161616" stroke-width="1.0"/>
<line x1="465.90" y1="657.25" x2="468.50" y2="657.25" stroke="#161616" stroke-width="1.3"/>
<rect x="474.90" y="723.80" width="5.30" height="19.80" fill="#b0b0b0" stroke="#9c9c9c" stroke-width="0.5"/>
<line x1="477.40" y1="723.80" x2="477.40" y2="722.04" stroke="#161616" stroke-width="1.0"/>
<line x1="476.10" y1="722.04" x2="478.70" y2="722.04" stroke="#161616" stroke-width="1.3"/>
<line x1="387.60" y1="650.00" x2="387.60" y2="744.10" stroke="#4a4a4a" stroke-width="1.1"/>
<line x1="385.30" y1="743.60" x2="387.60" y2="743.60" stroke="#4a4a4a" stroke-width="1"/>
<text x="384.00" y="746.90" font-size="8.8" text-anchor="end" fill="#1c1c1c">0</text>
<line x1="385.30" y1="721.60" x2="387.60" y2="721.60" stroke="#4a4a4a" stroke-width="1"/>
<text x="384.00" y="724.90" font-size="8.8" text-anchor="end" fill="#1c1c1c">20</text>
<line x1="385.30" y1="699.60" x2="387.60" y2="699.60" stroke="#4a4a4a" stroke-width="1"/>
<text x="384.00" y="702.90" font-size="8.8" text-anchor="end" fill="#1c1c1c">40</text>
<line x1="385.30" y1="677.60" x2="387.60" y2="677.60" stroke="#4a4a4a" stroke-width="1"/>
<text x="384.00" y="680.90" font-size="8.8" text-anchor="end" fill="#1c1c1c">60</text>
<line x1="385.30" y1="655.60" x2="387.60" y2="655.60" stroke="#4a4a4a" stroke-width="1"/>
<text x="384.00" y="658.90" font-size="8.8" text-anchor="end" fill="#1c1c1c">80</text>
<line x1="385.30" y1="743.60" x2="482.00" y2="743.60" stroke="#2a2a2a" stroke-width="1.4"/>
<line x1="406.30" y1="743.60" x2="406.30" y2="746.10" stroke="#4a4a4a" stroke-width="1"/>
<line x1="425.10" y1="743.60" x2="425.10" y2="746.10" stroke="#4a4a4a" stroke-width="1"/>
<line x1="443.80" y1="743.60" x2="443.80" y2="746.10" stroke="#4a4a4a" stroke-width="1"/>
<line x1="462.80" y1="743.60" x2="462.80" y2="746.10" stroke="#4a4a4a" stroke-width="1"/>
<line x1="482.00" y1="743.60" x2="482.00" y2="746.10" stroke="#4a4a4a" stroke-width="1"/>
<text x="432.70" y="640.00" font-size="8.8" text-anchor="middle" fill="#1c1c1c">RT112</text>
<text x="410.70" y="652.50" font-size="6.5" text-anchor="middle" fill="#222">**</text>
<text x="429.50" y="652.50" font-size="6.5" text-anchor="middle" fill="#222">**</text>
<text x="448.20" y="652.50" font-size="6.5" text-anchor="middle" fill="#222">**</text>
<text x="467.20" y="652.50" font-size="6.5" text-anchor="middle" fill="#222">**</text>
<text x="397.50" y="748.80" font-size="8.6" text-anchor="end" transform="rotate(-90 397.50 748.80)" fill="#1c1c1c">Vehicle</text>
<text x="411.70" y="755.70" font-size="8.8" text-anchor="middle" fill="#1c1c1c">0.1</text>
<text x="430.40" y="755.70" font-size="8.8" text-anchor="middle" fill="#1c1c1c">0.5</text>
<text x="455.40" y="755.70" font-size="8.8" text-anchor="middle" fill="#1c1c1c">0.1</text>
<text x="474.20" y="755.70" font-size="8.8" text-anchor="middle" fill="#1c1c1c">0.5</text>
<line x1="403.75" y1="758.00" x2="438.75" y2="758.00" stroke="#333" stroke-width="0.9"/>
<line x1="446.25" y1="758.00" x2="483.00" y2="758.00" stroke="#333" stroke-width="0.9"/>
<text x="422.20" y="768.20" font-size="8.8" text-anchor="middle" fill="#1c1c1c">BGJ398</text>
<text x="464.70" y="768.20" font-size="8.8" text-anchor="middle" fill="#1c1c1c">AZD4547</text>
<text x="485.00" y="755.70" font-size="8.9" fill="#1c1c1c">(µmol/L)</text>
<text x="16.40" y="537.60" font-size="8.6" text-anchor="middle" transform="rotate(-90 16.40 537.60)" fill="#1c1c1c">% of Cells in phase</text>
<text x="16.40" y="702.00" font-size="8.6" text-anchor="middle" transform="rotate(-90 16.40 702.00)" fill="#1c1c1c">% of Cells in phase</text>
<rect x="481.50" y="488.20" width="32.30" height="39.80" fill="#fff" stroke="#111" stroke-width="1.1"/>
<rect x="485.50" y="493.50" width="3.80" height="3.80" fill="#b4b4b4" stroke="#aaa" stroke-width="0.5"/>
<text x="490.80" y="498.00" font-size="8.1" fill="#1c1c1c">G<tspan font-size="5" dy="1.6">2</tspan><tspan dy="-1.6">–M</tspan></text>
<rect x="485.50" y="506.90" width="3.80" height="3.80" fill="#fff" stroke="#555" stroke-width="0.5"/>
<text x="490.80" y="511.40" font-size="8.1" fill="#1c1c1c">S</text>
<rect x="485.50" y="519.40" width="3.80" height="3.80" fill="#111" stroke="#111" stroke-width="0.5"/>
<text x="490.80" y="523.90" font-size="8.1" fill="#1c1c1c">G<tspan font-size="5" dy="1.6">1</tspan></text>
<rect x="484.00" y="650.60" width="31.20" height="39.40" fill="#fff" stroke="#111" stroke-width="1.1"/>
<rect x="488.00" y="655.90" width="3.80" height="3.80" fill="#b4b4b4" stroke="#aaa" stroke-width="0.5"/>
<text x="493.30" y="660.40" font-size="8.1" fill="#1c1c1c">G<tspan font-size="5" dy="1.6">2</tspan><tspan dy="-1.6">–M</tspan></text>
<rect x="488.00" y="669.30" width="3.80" height="3.80" fill="#fff" stroke="#555" stroke-width="0.5"/>
<text x="493.30" y="673.80" font-size="8.1" fill="#1c1c1c">S</text>
<rect x="488.00" y="681.80" width="3.80" height="3.80" fill="#111" stroke="#111" stroke-width="0.5"/>
<text x="493.30" y="686.30" font-size="8.1" fill="#1c1c1c">G<tspan font-size="5" dy="1.6">1</tspan></text>
</g>
</svg>
</body></html>
